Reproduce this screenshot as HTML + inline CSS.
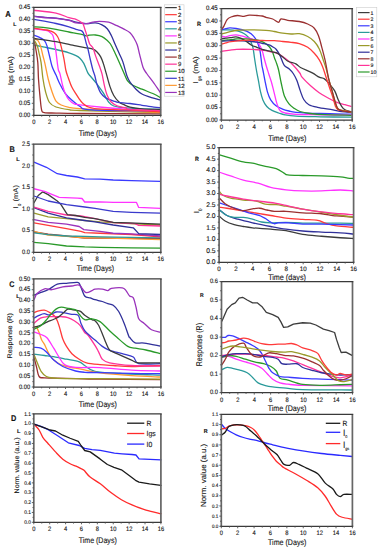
<!DOCTYPE html>
<html><head><meta charset="utf-8"><style>
html,body{margin:0;padding:0;background:#fff;width:384px;height:550px;overflow:hidden}
svg{display:block}
text{font-family:"Liberation Sans", sans-serif;text-rendering:geometricPrecision}
</style></head><body>
<svg width="384" height="550" viewBox="0 0 384 550">
<rect width="384" height="550" fill="#fff"/>
<path d="M33.90 45.00 C35.42 45.32 39.32 46.15 43.00 46.90 C46.68 47.65 51.67 48.52 56.00 49.50 C60.33 50.48 65.67 51.78 69.00 52.80 C72.33 53.82 74.18 54.70 76.00 55.60 C77.82 56.50 78.60 56.90 79.90 58.20 C81.20 59.50 82.50 61.00 83.80 63.40 C85.10 65.80 86.62 70.50 87.70 72.60 C88.78 74.70 88.78 74.13 90.30 76.00 C91.82 77.87 94.63 80.98 96.80 83.80 C98.97 86.62 101.33 89.87 103.30 92.90 C105.27 95.93 106.86 99.82 108.60 102.00 C110.34 104.18 110.85 105.02 113.75 106.00 C116.65 106.98 118.21 107.32 126.00 107.90 C133.79 108.48 154.75 109.23 160.50 109.50" stroke="#2a9a9a" stroke-width="1.3" fill="none" stroke-linejoin="round" stroke-linecap="round"/>
<path d="M33.90 39.10 C34.23 40.83 35.25 45.58 35.90 49.50 C36.55 53.42 37.37 57.68 37.80 62.60 C38.23 67.52 38.10 73.00 38.50 79.00 C38.90 85.00 39.67 93.38 40.20 98.60 C40.73 103.82 41.02 107.97 41.70 110.30 C42.38 112.63 41.92 112.13 44.30 112.60 C46.68 113.07 50.05 112.95 56.00 113.10 C61.95 113.25 62.58 113.38 80.00 113.50 C97.42 113.62 147.08 113.75 160.50 113.80" stroke="#9a3030" stroke-width="1.3" fill="none" stroke-linejoin="round" stroke-linecap="round"/>
<path d="M33.90 39.80 C34.45 40.77 36.33 43.33 37.20 45.60 C38.07 47.87 38.45 50.57 39.10 53.40 C39.75 56.23 40.45 58.33 41.10 62.60 C41.75 66.87 42.25 74.10 43.00 79.00 C43.75 83.90 44.52 88.08 45.60 92.00 C46.68 95.92 47.77 100.00 49.50 102.50 C51.23 105.00 52.75 105.82 56.00 107.00 C59.25 108.18 65.00 109.02 69.00 109.60 C73.00 110.18 64.75 110.02 80.00 110.50 C95.25 110.98 147.08 112.17 160.50 112.50" stroke="#9a9a2a" stroke-width="1.3" fill="none" stroke-linejoin="round" stroke-linecap="round"/>
<path d="M33.90 38.50 C34.55 38.82 36.72 39.22 37.80 40.40 C38.88 41.58 39.53 43.00 40.40 45.60 C41.27 48.20 42.23 52.95 43.00 56.00 C43.77 59.05 44.13 60.07 45.00 63.90 C45.87 67.73 47.02 74.32 48.20 79.00 C49.38 83.68 50.80 88.30 52.10 92.00 C53.40 95.70 54.48 99.03 56.00 101.20 C57.52 103.37 59.08 103.97 61.25 105.00 C63.42 106.03 65.88 106.78 69.00 107.40 C72.12 108.02 70.50 108.07 80.00 108.70 C89.50 109.33 112.58 110.60 126.00 111.20 C139.42 111.80 154.75 112.12 160.50 112.30" stroke="#ff9a33" stroke-width="1.3" fill="none" stroke-linejoin="round" stroke-linecap="round"/>
<path d="M33.90 35.20 C34.98 35.63 38.67 36.93 40.40 37.80 C42.13 38.67 43.22 39.10 44.30 40.40 C45.38 41.70 46.03 43.00 46.90 45.60 C47.77 48.20 48.63 52.52 49.50 56.00 C50.37 59.48 51.02 63.32 52.10 66.50 C53.18 69.68 54.68 72.15 56.00 75.10 C57.32 78.05 58.47 81.17 60.00 84.20 C61.53 87.23 63.25 90.68 65.20 93.30 C67.15 95.92 69.23 97.72 71.70 99.90 C74.17 102.08 76.68 104.73 80.00 106.40 C83.32 108.07 78.18 109.13 91.60 109.90 C105.02 110.67 149.02 110.82 160.50 111.00" stroke="#3a3aff" stroke-width="1.3" fill="none" stroke-linejoin="round" stroke-linecap="round"/>
<path d="M33.90 28.70 C36.08 29.03 44.28 30.05 47.00 30.70 C49.72 31.35 49.23 31.85 50.20 32.60 C51.17 33.35 52.15 33.90 52.80 35.20 C53.45 36.50 53.57 37.58 54.10 40.40 C54.63 43.22 55.47 48.40 56.00 52.10 C56.53 55.80 56.90 59.62 57.30 62.60 C57.70 65.58 57.95 68.13 58.40 70.00 C58.85 71.87 59.30 71.22 60.00 73.80 C60.70 76.38 61.73 82.25 62.60 85.50 C63.47 88.75 64.13 90.90 65.20 93.30 C66.27 95.70 67.48 98.15 69.00 99.90 C70.52 101.65 72.47 102.98 74.30 103.80 C76.13 104.62 75.38 104.22 80.00 104.80 C84.62 105.38 94.33 106.52 102.00 107.25 C109.67 107.98 116.25 108.53 126.00 109.20 C135.75 109.88 154.75 110.95 160.50 111.30" stroke="#ff33ff" stroke-width="1.3" fill="none" stroke-linejoin="round" stroke-linecap="round"/>
<path d="M33.90 28.10 C36.08 28.42 44.18 29.50 47.00 30.00 C49.82 30.50 49.55 30.60 50.80 31.10 C52.05 31.60 53.38 32.10 54.50 33.00 C55.62 33.90 56.67 35.17 57.50 36.50 C58.33 37.83 58.88 39.27 59.50 41.00 C60.12 42.73 60.52 43.97 61.25 46.90 C61.98 49.83 63.14 54.75 63.90 58.60 C64.66 62.45 65.15 67.03 65.80 70.00 C66.45 72.97 66.82 73.60 67.80 76.40 C68.78 79.20 70.40 83.98 71.70 86.80 C73.00 89.62 74.38 91.33 75.60 93.30 C76.82 95.27 77.85 96.98 79.00 98.60 C80.15 100.22 80.83 101.56 82.50 103.00 C84.17 104.44 85.75 106.22 89.00 107.25 C92.25 108.28 95.83 108.76 102.00 109.20 C108.17 109.64 116.25 109.47 126.00 109.90 C135.75 110.33 154.75 111.48 160.50 111.80" stroke="#ff3a3a" stroke-width="1.3" fill="none" stroke-linejoin="round" stroke-linecap="round"/>
<path d="M33.90 38.50 C37.58 39.03 50.15 40.73 56.00 41.70 C61.85 42.67 65.67 43.60 69.00 44.30 C72.33 45.00 73.10 45.32 76.00 45.90 C78.90 46.48 83.58 47.27 86.40 47.80 C89.22 48.33 91.17 48.45 92.90 49.10 C94.63 49.75 95.50 50.40 96.80 51.70 C98.10 53.00 99.62 54.95 100.70 56.90 C101.78 58.85 102.42 60.78 103.30 63.40 C104.18 66.02 104.90 68.77 106.00 72.60 C107.10 76.43 108.61 82.58 109.90 86.40 C111.19 90.22 112.23 92.90 113.75 95.50 C115.27 98.10 117.29 100.47 119.00 102.00 C120.71 103.53 122.17 103.85 124.00 104.70 C125.83 105.55 127.00 106.40 130.00 107.10 C133.00 107.80 136.92 108.50 142.00 108.90 C147.08 109.30 157.42 109.40 160.50 109.50" stroke="#3c3c3c" stroke-width="1.3" fill="none" stroke-linejoin="round" stroke-linecap="round"/>
<path d="M33.90 26.80 C35.42 26.90 39.32 26.97 43.00 27.40 C46.68 27.83 51.67 28.63 56.00 29.40 C60.33 30.17 65.67 31.35 69.00 32.00 C72.33 32.65 73.75 32.87 76.00 33.30 C78.25 33.73 80.77 34.17 82.50 34.60 C84.23 35.03 85.32 35.79 86.40 35.90 C87.48 36.01 87.48 35.40 89.00 35.25 C90.52 35.10 93.33 34.77 95.50 35.00 C97.67 35.23 100.04 35.68 102.00 36.60 C103.96 37.52 105.83 39.27 107.25 40.50 C108.67 41.73 109.21 41.92 110.50 44.00 C111.79 46.08 113.37 49.55 115.00 53.00 C116.63 56.45 118.60 60.87 120.30 64.70 C122.00 68.53 123.98 73.32 125.20 76.00 C126.42 78.68 126.40 79.30 127.60 80.80 C128.80 82.30 130.00 83.60 132.40 85.00 C134.80 86.40 138.42 87.70 142.00 89.20 C145.58 90.70 150.82 92.60 153.90 94.00 C156.98 95.40 159.40 97.00 160.50 97.60" stroke="#2a9a2a" stroke-width="1.3" fill="none" stroke-linejoin="round" stroke-linecap="round"/>
<path d="M33.90 19.40 C37.58 20.08 50.15 22.27 56.00 23.50 C61.85 24.73 65.67 25.82 69.00 26.80 C72.33 27.78 73.97 28.75 76.00 29.40 C78.03 30.05 80.00 30.17 81.20 30.70 C82.40 31.23 82.65 31.62 83.20 32.60 C83.75 33.58 83.97 34.70 84.50 36.60 C85.03 38.50 85.87 42.13 86.40 44.00 C86.93 45.87 87.05 45.22 87.70 47.80 C88.35 50.38 89.43 55.80 90.30 59.50 C91.17 63.20 92.13 67.25 92.90 70.00 C93.67 72.75 94.25 73.70 94.90 76.00 C95.55 78.30 95.83 80.98 96.80 83.80 C97.77 86.62 99.17 90.52 100.70 92.90 C102.23 95.28 103.62 96.68 106.00 98.10 C108.38 99.52 113.00 100.70 115.00 101.40 C117.00 102.10 115.50 101.95 118.00 102.30 C120.50 102.65 126.00 103.00 130.00 103.50 C134.00 104.00 138.02 104.70 142.00 105.30 C145.98 105.90 150.82 106.70 153.90 107.10 C156.98 107.50 159.40 107.60 160.50 107.70" stroke="#3a3acc" stroke-width="1.3" fill="none" stroke-linejoin="round" stroke-linecap="round"/>
<path d="M33.90 16.20 C35.42 16.37 39.32 16.87 43.00 17.20 C46.68 17.53 51.67 17.70 56.00 18.20 C60.33 18.70 65.67 19.53 69.00 20.20 C72.33 20.87 73.53 21.65 76.00 22.20 C78.47 22.75 81.63 23.28 83.80 23.50 C85.97 23.72 87.05 23.60 89.00 23.50 C90.95 23.40 93.33 22.68 95.50 22.90 C97.67 23.12 100.04 23.83 102.00 24.80 C103.96 25.77 105.72 26.96 107.25 28.70 C108.78 30.44 109.91 32.70 111.20 35.25 C112.49 37.80 113.70 41.04 115.00 44.00 C116.30 46.96 117.70 50.07 119.00 53.00 C120.30 55.93 121.47 57.77 122.80 61.60 C124.13 65.43 125.80 72.60 127.00 76.00 C128.20 79.40 128.50 79.80 130.00 82.00 C131.50 84.20 134.00 87.20 136.00 89.20 C138.00 91.20 139.42 92.60 142.00 94.00 C144.58 95.40 148.42 96.60 151.50 97.60 C154.58 98.60 159.00 99.60 160.50 100.00" stroke="#30309a" stroke-width="1.3" fill="none" stroke-linejoin="round" stroke-linecap="round"/>
<path d="M33.90 16.50 C35.42 16.67 39.32 17.18 43.00 17.50 C46.68 17.82 51.67 17.92 56.00 18.40 C60.33 18.88 65.67 19.65 69.00 20.40 C72.33 21.15 73.53 22.38 76.00 22.90 C78.47 23.42 81.85 23.40 83.80 23.50 C85.75 23.60 86.18 23.72 87.70 23.50 C89.22 23.28 90.95 22.57 92.90 22.20 C94.85 21.83 96.78 21.30 99.40 21.30 C102.02 21.30 106.00 21.62 108.60 22.20 C111.20 22.78 113.43 24.13 115.00 24.80 C116.57 25.47 116.50 25.48 118.00 26.20 C119.50 26.92 122.00 28.02 124.00 29.10 C126.00 30.18 128.40 31.30 130.00 32.70 C131.60 34.10 132.40 35.48 133.60 37.50 C134.80 39.52 136.20 41.98 137.20 44.80 C138.20 47.62 138.62 50.62 139.60 54.40 C140.58 58.18 141.92 64.32 143.10 67.50 C144.28 70.68 144.90 70.88 146.70 73.50 C148.50 76.12 151.60 79.98 153.90 83.20 C156.20 86.42 159.40 91.20 160.50 92.80" stroke="#9a33bb" stroke-width="1.3" fill="none" stroke-linejoin="round" stroke-linecap="round"/>
<path d="M33.90 10.25 C37.58 10.72 50.15 11.86 56.00 13.10 C61.85 14.34 65.67 16.65 69.00 17.70 C72.33 18.75 73.97 18.65 76.00 19.40 C78.03 20.15 80.00 21.40 81.20 22.20 C82.40 23.00 82.55 22.90 83.20 24.20 C83.85 25.50 84.35 27.72 85.10 30.00 C85.85 32.28 86.93 35.57 87.70 37.90 C88.47 40.23 88.83 42.35 89.70 44.00 C90.57 45.65 91.93 45.87 92.90 47.80 C93.87 49.73 94.42 52.57 95.50 55.60 C96.58 58.63 98.32 62.95 99.40 66.00 C100.48 69.05 101.13 70.50 102.00 73.90 C102.87 77.30 103.72 82.80 104.60 86.40 C105.47 90.00 106.15 92.90 107.25 95.50 C108.35 98.10 109.46 100.25 111.20 102.00 C112.94 103.75 115.23 105.02 117.70 106.00 C120.17 106.98 123.95 107.35 126.00 107.90 C128.05 108.45 124.25 108.83 130.00 109.30 C135.75 109.77 155.42 110.47 160.50 110.70" stroke="#ff3399" stroke-width="1.3" fill="none" stroke-linejoin="round" stroke-linecap="round"/>
<path d="M33.75 7.30V115.30M160.70 7.30V115.30" fill="none" stroke="#666" stroke-width="1.7"/>
<path d="M32.90 7.30H161.55M32.90 115.30H161.55" fill="none" stroke="#3a3a3a" stroke-width="1.25"/>
<path d="M33.75 115.30v2.0M41.68 115.30v1.3M49.62 115.30v2.0M57.55 115.30v1.3M65.49 115.30v2.0M73.42 115.30v1.3M81.36 115.30v2.0M89.29 115.30v1.3M97.22 115.30v2.0M105.16 115.30v1.3M113.09 115.30v2.0M121.03 115.30v1.3M128.96 115.30v2.0M136.90 115.30v1.3M144.83 115.30v2.0M152.77 115.30v1.3M160.70 115.30v2.0M33.75 115.30h-2.0M33.75 109.30h-1.3M33.75 103.30h-2.0M33.75 97.30h-1.3M33.75 91.30h-2.0M33.75 85.30h-1.3M33.75 79.30h-2.0M33.75 73.30h-1.3M33.75 67.30h-2.0M33.75 61.30h-1.3M33.75 55.30h-2.0M33.75 49.30h-1.3M33.75 43.30h-2.0M33.75 37.30h-1.3M33.75 31.30h-2.0M33.75 25.30h-1.3M33.75 19.30h-2.0M33.75 13.30h-1.3M33.75 7.30h-2.0" stroke="#505050" stroke-width="0.9" fill="none"/>
<text transform="translate(30.15 117.00) scale(0.9 1.0)" font-size="6.4" text-anchor="end" fill="#1a1a1a" font-weight="normal" stroke="#1a1a1a" stroke-width="0.14">0.00</text>
<text transform="translate(30.15 105.00) scale(0.9 1.0)" font-size="6.4" text-anchor="end" fill="#1a1a1a" font-weight="normal" stroke="#1a1a1a" stroke-width="0.14">0.05</text>
<text transform="translate(30.15 93.00) scale(0.9 1.0)" font-size="6.4" text-anchor="end" fill="#1a1a1a" font-weight="normal" stroke="#1a1a1a" stroke-width="0.14">0.10</text>
<text transform="translate(30.15 81.00) scale(0.9 1.0)" font-size="6.4" text-anchor="end" fill="#1a1a1a" font-weight="normal" stroke="#1a1a1a" stroke-width="0.14">0.15</text>
<text transform="translate(30.15 69.00) scale(0.9 1.0)" font-size="6.4" text-anchor="end" fill="#1a1a1a" font-weight="normal" stroke="#1a1a1a" stroke-width="0.14">0.20</text>
<text transform="translate(30.15 57.00) scale(0.9 1.0)" font-size="6.4" text-anchor="end" fill="#1a1a1a" font-weight="normal" stroke="#1a1a1a" stroke-width="0.14">0.25</text>
<text transform="translate(30.15 45.00) scale(0.9 1.0)" font-size="6.4" text-anchor="end" fill="#1a1a1a" font-weight="normal" stroke="#1a1a1a" stroke-width="0.14">0.30</text>
<text transform="translate(30.15 33.00) scale(0.9 1.0)" font-size="6.4" text-anchor="end" fill="#1a1a1a" font-weight="normal" stroke="#1a1a1a" stroke-width="0.14">0.35</text>
<text transform="translate(30.15 21.00) scale(0.9 1.0)" font-size="6.4" text-anchor="end" fill="#1a1a1a" font-weight="normal" stroke="#1a1a1a" stroke-width="0.14">0.40</text>
<text transform="translate(30.15 9.00) scale(0.9 1.0)" font-size="6.4" text-anchor="end" fill="#1a1a1a" font-weight="normal" stroke="#1a1a1a" stroke-width="0.14">0.45</text>
<text transform="translate(33.75 124.40) scale(0.9 1.0)" font-size="6.4" text-anchor="middle" fill="#1a1a1a" font-weight="normal" stroke="#1a1a1a" stroke-width="0.14">0</text>
<text transform="translate(49.62 124.40) scale(0.9 1.0)" font-size="6.4" text-anchor="middle" fill="#1a1a1a" font-weight="normal" stroke="#1a1a1a" stroke-width="0.14">2</text>
<text transform="translate(65.49 124.40) scale(0.9 1.0)" font-size="6.4" text-anchor="middle" fill="#1a1a1a" font-weight="normal" stroke="#1a1a1a" stroke-width="0.14">4</text>
<text transform="translate(81.36 124.40) scale(0.9 1.0)" font-size="6.4" text-anchor="middle" fill="#1a1a1a" font-weight="normal" stroke="#1a1a1a" stroke-width="0.14">6</text>
<text transform="translate(97.22 124.40) scale(0.9 1.0)" font-size="6.4" text-anchor="middle" fill="#1a1a1a" font-weight="normal" stroke="#1a1a1a" stroke-width="0.14">8</text>
<text transform="translate(113.09 124.40) scale(0.9 1.0)" font-size="6.4" text-anchor="middle" fill="#1a1a1a" font-weight="normal" stroke="#1a1a1a" stroke-width="0.14">10</text>
<text transform="translate(128.96 124.40) scale(0.9 1.0)" font-size="6.4" text-anchor="middle" fill="#1a1a1a" font-weight="normal" stroke="#1a1a1a" stroke-width="0.14">12</text>
<text transform="translate(144.83 124.40) scale(0.9 1.0)" font-size="6.4" text-anchor="middle" fill="#1a1a1a" font-weight="normal" stroke="#1a1a1a" stroke-width="0.14">14</text>
<text transform="translate(160.70 124.40) scale(0.9 1.0)" font-size="6.4" text-anchor="middle" fill="#1a1a1a" font-weight="normal" stroke="#1a1a1a" stroke-width="0.14">16</text>
<text transform="translate(5.20 16.70) scale(0.9 1.0)" font-size="8.6" text-anchor="start" fill="#111" font-weight="bold" stroke="#111" stroke-width="0.14">A</text>
<text transform="translate(13.20 26.00)" font-size="5" text-anchor="start" fill="#111" font-weight="bold" stroke="#111" stroke-width="0.14">L</text>
<text transform="translate(13.00 70.80) rotate(-90) scale(1.0 0.92)" font-size="7.7" text-anchor="middle" fill="#1a1a1a" font-weight="normal" stroke="#1a1a1a" stroke-width="0.14">Igs (mA)</text>
<text transform="translate(97.70 136.00) scale(0.87 1.0)" font-size="8.1" text-anchor="middle" fill="#1a1a1a" font-weight="normal" stroke="#1a1a1a" stroke-width="0.14">Time (Days)</text>
<rect x="164.3" y="4.8" width="19.7" height="91.4" fill="none" stroke="#ccc" stroke-width="0.6"/>
<path d="M165.2 7.60H176.8" stroke="#3c3c3c" stroke-width="1.2"/>
<text transform="translate(178.00 9.80)" font-size="6" text-anchor="start" fill="#1a1a1a" font-weight="normal" stroke="#1a1a1a" stroke-width="0.14">1</text>
<path d="M165.2 14.67H176.8" stroke="#ff3a3a" stroke-width="1.2"/>
<text transform="translate(178.00 16.87)" font-size="6" text-anchor="start" fill="#1a1a1a" font-weight="normal" stroke="#1a1a1a" stroke-width="0.14">2</text>
<path d="M165.2 21.74H176.8" stroke="#3a3aff" stroke-width="1.2"/>
<text transform="translate(178.00 23.94)" font-size="6" text-anchor="start" fill="#1a1a1a" font-weight="normal" stroke="#1a1a1a" stroke-width="0.14">3</text>
<path d="M165.2 28.81H176.8" stroke="#2a9a9a" stroke-width="1.2"/>
<text transform="translate(178.00 31.01)" font-size="6" text-anchor="start" fill="#1a1a1a" font-weight="normal" stroke="#1a1a1a" stroke-width="0.14">4</text>
<path d="M165.2 35.88H176.8" stroke="#ff33ff" stroke-width="1.2"/>
<text transform="translate(178.00 38.08)" font-size="6" text-anchor="start" fill="#1a1a1a" font-weight="normal" stroke="#1a1a1a" stroke-width="0.14">5</text>
<path d="M165.2 42.95H176.8" stroke="#9a9a2a" stroke-width="1.2"/>
<text transform="translate(178.00 45.15)" font-size="6" text-anchor="start" fill="#1a1a1a" font-weight="normal" stroke="#1a1a1a" stroke-width="0.14">6</text>
<path d="M165.2 50.02H176.8" stroke="#30309a" stroke-width="1.2"/>
<text transform="translate(178.00 52.22)" font-size="6" text-anchor="start" fill="#1a1a1a" font-weight="normal" stroke="#1a1a1a" stroke-width="0.14">7</text>
<path d="M165.2 57.09H176.8" stroke="#9a3030" stroke-width="1.2"/>
<text transform="translate(178.00 59.29)" font-size="6" text-anchor="start" fill="#1a1a1a" font-weight="normal" stroke="#1a1a1a" stroke-width="0.14">8</text>
<path d="M165.2 64.16H176.8" stroke="#ff3399" stroke-width="1.2"/>
<text transform="translate(178.00 66.36)" font-size="6" text-anchor="start" fill="#1a1a1a" font-weight="normal" stroke="#1a1a1a" stroke-width="0.14">9</text>
<path d="M165.2 71.23H176.8" stroke="#2a9a2a" stroke-width="1.2"/>
<text transform="translate(178.00 73.43)" font-size="6" text-anchor="start" fill="#1a1a1a" font-weight="normal" stroke="#1a1a1a" stroke-width="0.14">10</text>
<path d="M165.2 78.30H176.8" stroke="#3a3acc" stroke-width="1.2"/>
<text transform="translate(178.00 80.50)" font-size="6" text-anchor="start" fill="#1a1a1a" font-weight="normal" stroke="#1a1a1a" stroke-width="0.14">11</text>
<path d="M165.2 85.37H176.8" stroke="#ff9a33" stroke-width="1.2"/>
<text transform="translate(178.00 87.57)" font-size="6" text-anchor="start" fill="#1a1a1a" font-weight="normal" stroke="#1a1a1a" stroke-width="0.14">12</text>
<path d="M165.2 92.44H176.8" stroke="#9a33bb" stroke-width="1.2"/>
<text transform="translate(178.00 94.64)" font-size="6" text-anchor="start" fill="#1a1a1a" font-weight="normal" stroke="#1a1a1a" stroke-width="0.14">13</text>
<path d="M221.60 29.90 C222.73 29.90 226.00 29.78 228.40 29.90 C230.80 30.02 233.69 30.13 236.00 30.60 C238.31 31.07 240.52 31.92 242.25 32.70 C243.98 33.48 245.19 34.35 246.40 35.30 C247.61 36.25 248.63 37.02 249.50 38.40 C250.37 39.78 250.98 41.87 251.60 43.60 C252.22 45.33 252.72 46.40 253.20 48.80 C253.68 51.20 253.97 54.47 254.50 58.00 C255.03 61.53 255.75 66.27 256.40 70.00 C257.05 73.73 257.75 76.93 258.40 80.40 C259.05 83.87 259.55 87.55 260.30 90.80 C261.05 94.05 261.82 97.28 262.90 99.90 C263.98 102.52 265.28 104.75 266.80 106.50 C268.32 108.25 270.03 109.32 272.00 110.40 C273.97 111.48 276.43 112.25 278.60 113.00 C280.77 113.75 282.10 114.37 285.00 114.90 C287.90 115.43 290.17 115.88 296.00 116.20 C301.83 116.52 310.67 116.63 320.00 116.80 C329.33 116.97 346.67 117.13 352.00 117.20" stroke="#2a9a9a" stroke-width="1.3" fill="none" stroke-linejoin="round" stroke-linecap="round"/>
<path d="M221.60 29.60 C222.30 29.45 224.45 28.98 225.80 28.70 C227.15 28.42 228.00 27.93 229.70 27.90 C231.40 27.87 233.22 27.97 236.00 28.50 C238.78 29.03 243.80 30.14 246.40 31.10 C249.00 32.06 250.12 33.03 251.60 34.25 C253.08 35.47 254.25 36.84 255.30 38.40 C256.35 39.96 257.12 41.52 257.90 43.60 C258.68 45.68 259.48 48.50 260.00 50.90 C260.52 53.30 260.67 55.48 261.00 58.00 C261.33 60.52 261.68 64.00 262.00 66.00 C262.32 68.00 262.42 67.60 262.90 70.00 C263.38 72.40 264.13 76.72 264.90 80.40 C265.67 84.08 266.53 88.85 267.50 92.10 C268.47 95.35 269.28 97.62 270.70 99.90 C272.12 102.18 274.03 104.27 276.00 105.80 C277.97 107.33 280.33 108.23 282.50 109.10 C284.67 109.97 286.75 110.47 289.00 111.00 C291.25 111.53 290.83 111.88 296.00 112.30 C301.17 112.72 310.67 113.18 320.00 113.50 C329.33 113.82 346.67 114.08 352.00 114.20" stroke="#3a3aff" stroke-width="1.3" fill="none" stroke-linejoin="round" stroke-linecap="round"/>
<path d="M221.60 36.40 C222.30 36.47 224.45 36.93 225.80 36.80 C227.15 36.67 228.00 35.93 229.70 35.60 C231.40 35.27 234.08 34.77 236.00 34.80 C237.92 34.83 239.47 35.37 241.20 35.80 C242.93 36.23 244.32 36.78 246.40 37.40 C248.48 38.02 251.78 38.63 253.70 39.50 C255.62 40.37 256.77 41.39 257.90 42.60 C259.03 43.81 259.72 45.18 260.50 46.75 C261.28 48.32 262.00 50.12 262.60 52.00 C263.20 53.88 263.48 55.67 264.10 58.00 C264.72 60.33 265.52 63.33 266.30 66.00 C267.08 68.67 267.95 71.33 268.80 74.00 C269.65 76.67 270.53 78.98 271.40 82.00 C272.27 85.02 273.13 88.67 274.00 92.10 C274.87 95.53 275.62 99.55 276.60 102.60 C277.58 105.65 278.50 108.67 279.90 110.40 C281.30 112.13 282.32 112.35 285.00 113.00 C287.68 113.65 290.17 114.00 296.00 114.30 C301.83 114.60 310.67 114.65 320.00 114.80 C329.33 114.95 346.67 115.13 352.00 115.20" stroke="#ff33ff" stroke-width="1.3" fill="none" stroke-linejoin="round" stroke-linecap="round"/>
<path d="M221.60 40.70 C222.57 40.57 225.40 40.12 227.40 39.90 C229.40 39.68 232.17 39.57 233.60 39.40 C235.03 39.23 233.87 38.98 236.00 38.90 C238.13 38.82 242.93 38.72 246.40 38.90 C249.87 39.08 253.85 39.38 256.80 40.00 C259.75 40.62 262.02 41.48 264.10 42.60 C266.18 43.73 267.90 45.18 269.30 46.75 C270.70 48.32 271.63 50.12 272.50 52.00 C273.37 53.88 273.87 56.23 274.50 58.00 C275.13 59.77 275.62 60.60 276.30 62.60 C276.98 64.60 277.78 66.60 278.60 70.00 C279.42 73.40 280.23 78.67 281.20 83.00 C282.17 87.33 283.10 92.52 284.40 96.00 C285.70 99.48 287.37 101.83 289.00 103.90 C290.63 105.97 292.37 107.13 294.20 108.40 C296.03 109.67 297.37 110.65 300.00 111.50 C302.63 112.35 305.93 112.97 310.00 113.50 C314.07 114.03 317.57 114.40 324.40 114.70 C331.23 115.00 346.57 115.20 351.00 115.30" stroke="#2a9a2a" stroke-width="1.3" fill="none" stroke-linejoin="round" stroke-linecap="round"/>
<path d="M221.60 51.40 C224.12 51.07 231.72 49.73 236.75 49.40 C241.78 49.07 247.54 49.27 251.75 49.40 C255.96 49.53 258.99 49.85 262.00 50.20 C265.01 50.55 267.20 50.97 269.80 51.50 C272.40 52.03 275.00 52.22 277.60 53.40 C280.20 54.58 282.79 56.63 285.40 58.60 C288.01 60.57 290.85 62.80 293.25 65.20 C295.65 67.60 298.34 71.00 299.80 73.00 C301.26 75.00 300.20 75.07 302.00 77.20 C303.80 79.33 307.73 83.22 310.60 85.80 C313.47 88.38 316.33 90.70 319.20 92.70 C322.07 94.70 324.93 96.23 327.80 97.80 C330.67 99.37 333.53 100.95 336.40 102.10 C339.27 103.25 342.57 103.98 345.00 104.70 C347.43 105.42 350.00 106.12 351.00 106.40" stroke="#ff3399" stroke-width="1.3" fill="none" stroke-linejoin="round" stroke-linecap="round"/>
<path d="M221.60 41.10 C222.57 41.07 225.40 41.00 227.40 40.90 C229.40 40.80 232.17 40.57 233.60 40.50 C235.03 40.43 233.87 40.42 236.00 40.50 C238.13 40.58 242.93 40.73 246.40 41.00 C249.87 41.27 254.20 41.70 256.80 42.10 C259.40 42.50 260.60 43.10 262.00 43.40 C263.40 43.70 263.90 43.60 265.20 43.90 C266.50 44.20 268.50 44.68 269.80 45.20 C271.10 45.72 271.92 46.28 273.00 47.00 C274.08 47.72 275.10 48.00 276.30 49.50 C277.50 51.00 278.90 53.38 280.20 56.00 C281.50 58.62 282.58 63.03 284.10 65.20 C285.62 67.37 287.75 67.58 289.30 69.00 C290.85 70.42 292.13 71.82 293.40 73.75 C294.67 75.68 295.75 77.74 296.90 80.60 C298.05 83.46 299.16 87.75 300.30 90.90 C301.44 94.05 302.32 97.20 303.75 99.50 C305.18 101.80 306.61 103.40 308.90 104.70 C311.19 106.00 313.48 106.45 317.50 107.30 C321.52 108.15 328.98 109.08 333.00 109.80 C337.02 110.52 338.60 111.17 341.60 111.60 C344.60 112.03 349.43 112.27 351.00 112.40" stroke="#30309a" stroke-width="1.3" fill="none" stroke-linejoin="round" stroke-linecap="round"/>
<path d="M221.60 38.75 C222.30 38.64 224.32 38.29 225.80 38.10 C227.28 37.91 228.80 37.80 230.50 37.60 C232.20 37.40 234.22 36.77 236.00 36.90 C237.78 37.03 239.47 37.63 241.20 38.40 C242.93 39.17 244.67 40.37 246.40 41.50 C248.13 42.63 249.87 44.23 251.60 45.20 C253.33 46.17 255.07 46.60 256.80 47.30 C258.53 48.00 260.26 48.85 262.00 49.40 C263.74 49.95 265.58 50.20 267.25 50.60 C268.92 51.00 270.54 51.45 272.00 51.80 C273.46 52.15 274.42 52.00 276.00 52.70 C277.58 53.40 279.50 54.58 281.50 56.00 C283.50 57.42 285.61 59.93 288.00 61.25 C290.39 62.57 293.68 62.81 295.85 63.90 C298.02 64.99 298.26 66.30 301.00 67.80 C303.74 69.30 309.27 71.33 312.30 72.90 C315.33 74.47 317.18 76.20 319.20 77.20 C321.22 78.20 322.68 77.75 324.40 78.90 C326.12 80.05 327.78 82.10 329.50 84.10 C331.22 86.10 333.27 88.33 334.70 90.90 C336.13 93.47 336.95 96.92 338.10 99.50 C339.25 102.08 340.45 104.68 341.60 106.40 C342.75 108.12 343.43 108.93 345.00 109.80 C346.57 110.67 350.00 111.30 351.00 111.60" stroke="#3c3c3c" stroke-width="1.3" fill="none" stroke-linejoin="round" stroke-linecap="round"/>
<path d="M221.60 44.20 C222.30 43.98 224.23 43.33 225.80 42.90 C227.37 42.47 227.97 42.03 231.00 41.60 C234.03 41.17 239.67 40.52 244.00 40.30 C248.33 40.08 253.33 40.23 257.00 40.30 C260.67 40.37 263.12 40.63 266.00 40.70 C268.88 40.77 271.52 40.57 274.30 40.70 C277.08 40.83 279.92 41.23 282.70 41.50 C285.48 41.77 288.23 41.93 291.00 42.30 C293.77 42.67 296.52 42.87 299.30 43.70 C302.08 44.53 305.20 45.72 307.70 47.30 C310.20 48.88 312.37 51.12 314.30 53.20 C316.23 55.28 317.90 57.52 319.30 59.80 C320.70 62.08 321.57 64.00 322.70 66.90 C323.83 69.80 324.97 73.77 326.10 77.20 C327.23 80.63 328.35 84.07 329.50 87.50 C330.65 90.93 332.00 94.65 333.00 97.80 C334.00 100.95 334.65 104.40 335.50 106.40 C336.35 108.40 336.52 109.08 338.10 109.80 C339.68 110.52 342.85 110.23 345.00 110.70 C347.15 111.17 350.00 112.28 351.00 112.60" stroke="#ff3a3a" stroke-width="1.3" fill="none" stroke-linejoin="round" stroke-linecap="round"/>
<path d="M221.60 34.00 C222.73 33.68 225.75 32.73 228.40 32.10 C231.05 31.48 233.82 30.62 237.50 30.25 C241.18 29.88 245.75 29.89 250.50 29.90 C255.25 29.91 262.03 30.03 266.00 30.30 C269.97 30.57 271.52 31.02 274.30 31.50 C277.08 31.98 279.92 32.78 282.70 33.20 C285.48 33.62 288.23 33.92 291.00 34.00 C293.77 34.08 296.52 33.28 299.30 33.70 C302.08 34.12 305.20 35.20 307.70 36.50 C310.20 37.80 312.37 39.42 314.30 41.50 C316.23 43.58 317.77 45.80 319.30 49.00 C320.83 52.20 322.37 57.43 323.50 60.70 C324.63 63.97 325.23 65.57 326.10 68.60 C326.97 71.63 327.70 75.18 328.70 78.90 C329.70 82.62 330.97 86.88 332.10 90.90 C333.23 94.92 334.50 99.98 335.50 103.00 C336.50 106.02 336.80 107.72 338.10 109.00 C339.40 110.28 341.15 110.20 343.30 110.70 C345.45 111.20 349.72 111.78 351.00 112.00" stroke="#9a9a2a" stroke-width="1.3" fill="none" stroke-linejoin="round" stroke-linecap="round"/>
<path d="M221.40 29.60 C221.82 29.02 222.95 27.77 223.90 26.10 C224.85 24.43 225.92 21.12 227.10 19.60 C228.28 18.08 229.27 17.68 231.00 17.00 C232.73 16.32 235.55 15.60 237.50 15.50 C239.45 15.40 240.74 16.47 242.70 16.40 C244.66 16.33 246.87 15.25 249.25 15.10 C251.63 14.95 254.82 15.35 257.00 15.50 C259.18 15.65 260.80 15.70 262.30 16.00 C263.80 16.30 264.27 16.80 266.00 17.30 C267.73 17.80 270.62 18.17 272.70 19.00 C274.78 19.83 277.12 22.30 278.50 22.30 C279.88 22.30 279.47 19.33 281.00 19.00 C282.53 18.67 284.65 19.88 287.70 20.30 C290.75 20.72 295.97 20.88 299.30 21.50 C302.63 22.12 305.20 22.88 307.70 24.00 C310.20 25.12 312.50 26.25 314.30 28.20 C316.10 30.15 317.25 32.52 318.50 35.70 C319.75 38.88 320.68 43.13 321.80 47.30 C322.92 51.47 324.05 55.43 325.20 60.70 C326.35 65.97 327.55 73.87 328.70 78.90 C329.85 83.93 330.97 86.88 332.10 90.90 C333.23 94.92 334.50 99.98 335.50 103.00 C336.50 106.02 336.80 107.63 338.10 109.00 C339.40 110.37 341.15 110.73 343.30 111.20 C345.45 111.67 349.72 111.70 351.00 111.80" stroke="#9a3030" stroke-width="1.3" fill="none" stroke-linejoin="round" stroke-linecap="round"/>
<path d="M221.40 8.60V120.00M352.20 8.60V120.00" fill="none" stroke="#666" stroke-width="1.7"/>
<path d="M220.55 8.60H353.05M220.55 120.00H353.05" fill="none" stroke="#3a3a3a" stroke-width="1.25"/>
<path d="M221.40 120.00v2.0M229.58 120.00v1.3M237.75 120.00v2.0M245.93 120.00v1.3M254.10 120.00v2.0M262.27 120.00v1.3M270.45 120.00v2.0M278.62 120.00v1.3M286.80 120.00v2.0M294.98 120.00v1.3M303.15 120.00v2.0M311.32 120.00v1.3M319.50 120.00v2.0M327.68 120.00v1.3M335.85 120.00v2.0M344.02 120.00v1.3M352.20 120.00v2.0M221.40 120.00h-2.0M221.40 113.81h-1.3M221.40 107.62h-2.0M221.40 101.43h-1.3M221.40 95.24h-2.0M221.40 89.06h-1.3M221.40 82.87h-2.0M221.40 76.68h-1.3M221.40 70.49h-2.0M221.40 64.30h-1.3M221.40 58.11h-2.0M221.40 51.92h-1.3M221.40 45.73h-2.0M221.40 39.54h-1.3M221.40 33.36h-2.0M221.40 27.17h-1.3M221.40 20.98h-2.0M221.40 14.79h-1.3M221.40 8.60h-2.0" stroke="#505050" stroke-width="0.9" fill="none"/>
<text transform="translate(217.60 121.70) scale(0.94 1.0)" font-size="6.4" text-anchor="end" fill="#1a1a1a" font-weight="normal" stroke="#1a1a1a" stroke-width="0.14">0.00</text>
<text transform="translate(217.60 109.32) scale(0.94 1.0)" font-size="6.4" text-anchor="end" fill="#1a1a1a" font-weight="normal" stroke="#1a1a1a" stroke-width="0.14">0.05</text>
<text transform="translate(217.60 96.94) scale(0.94 1.0)" font-size="6.4" text-anchor="end" fill="#1a1a1a" font-weight="normal" stroke="#1a1a1a" stroke-width="0.14">0.10</text>
<text transform="translate(217.60 84.57) scale(0.94 1.0)" font-size="6.4" text-anchor="end" fill="#1a1a1a" font-weight="normal" stroke="#1a1a1a" stroke-width="0.14">0.15</text>
<text transform="translate(217.60 72.19) scale(0.94 1.0)" font-size="6.4" text-anchor="end" fill="#1a1a1a" font-weight="normal" stroke="#1a1a1a" stroke-width="0.14">0.20</text>
<text transform="translate(217.60 59.81) scale(0.94 1.0)" font-size="6.4" text-anchor="end" fill="#1a1a1a" font-weight="normal" stroke="#1a1a1a" stroke-width="0.14">0.25</text>
<text transform="translate(217.60 47.43) scale(0.94 1.0)" font-size="6.4" text-anchor="end" fill="#1a1a1a" font-weight="normal" stroke="#1a1a1a" stroke-width="0.14">0.30</text>
<text transform="translate(217.60 35.06) scale(0.94 1.0)" font-size="6.4" text-anchor="end" fill="#1a1a1a" font-weight="normal" stroke="#1a1a1a" stroke-width="0.14">0.35</text>
<text transform="translate(217.60 22.68) scale(0.94 1.0)" font-size="6.4" text-anchor="end" fill="#1a1a1a" font-weight="normal" stroke="#1a1a1a" stroke-width="0.14">0.40</text>
<text transform="translate(217.60 10.30) scale(0.94 1.0)" font-size="6.4" text-anchor="end" fill="#1a1a1a" font-weight="normal" stroke="#1a1a1a" stroke-width="0.14">0.45</text>
<text transform="translate(221.40 129.10) scale(0.94 1.0)" font-size="6.4" text-anchor="middle" fill="#1a1a1a" font-weight="normal" stroke="#1a1a1a" stroke-width="0.14">0</text>
<text transform="translate(237.75 129.10) scale(0.94 1.0)" font-size="6.4" text-anchor="middle" fill="#1a1a1a" font-weight="normal" stroke="#1a1a1a" stroke-width="0.14">2</text>
<text transform="translate(254.10 129.10) scale(0.94 1.0)" font-size="6.4" text-anchor="middle" fill="#1a1a1a" font-weight="normal" stroke="#1a1a1a" stroke-width="0.14">4</text>
<text transform="translate(270.45 129.10) scale(0.94 1.0)" font-size="6.4" text-anchor="middle" fill="#1a1a1a" font-weight="normal" stroke="#1a1a1a" stroke-width="0.14">6</text>
<text transform="translate(286.80 129.10) scale(0.94 1.0)" font-size="6.4" text-anchor="middle" fill="#1a1a1a" font-weight="normal" stroke="#1a1a1a" stroke-width="0.14">8</text>
<text transform="translate(303.15 129.10) scale(0.94 1.0)" font-size="6.4" text-anchor="middle" fill="#1a1a1a" font-weight="normal" stroke="#1a1a1a" stroke-width="0.14">10</text>
<text transform="translate(319.50 129.10) scale(0.94 1.0)" font-size="6.4" text-anchor="middle" fill="#1a1a1a" font-weight="normal" stroke="#1a1a1a" stroke-width="0.14">12</text>
<text transform="translate(335.85 129.10) scale(0.94 1.0)" font-size="6.4" text-anchor="middle" fill="#1a1a1a" font-weight="normal" stroke="#1a1a1a" stroke-width="0.14">14</text>
<text transform="translate(352.20 129.10) scale(0.94 1.0)" font-size="6.4" text-anchor="middle" fill="#1a1a1a" font-weight="normal" stroke="#1a1a1a" stroke-width="0.14">16</text>
<text transform="translate(196.90 26.30) scale(0.92 1.0)" font-size="6.1" text-anchor="start" fill="#111" font-weight="bold" stroke="#111" stroke-width="0.14">R</text>
<text transform="translate(198.1 83.6) rotate(-90) scale(1 0.88)" font-size="8" fill="#1a1a1a" stroke="#1a1a1a" stroke-width="0.12">I<tspan font-size="5.2" dy="3.2">gs</tspan><tspan dy="-3.2"> (mA)</tspan></text>
<text transform="translate(287.25 141.20) scale(0.87 1.0)" font-size="8.1" text-anchor="middle" fill="#1a1a1a" font-weight="normal" stroke="#1a1a1a" stroke-width="0.14">Time (Days)</text>
<rect x="356.6" y="7.6" width="20.2" height="69.2" fill="none" stroke="#ccc" stroke-width="0.6"/>
<path d="M358 12.60H369.6" stroke="#3c3c3c" stroke-width="1.2"/>
<text transform="translate(370.60 14.50)" font-size="5.2" text-anchor="start" fill="#1a1a1a" font-weight="normal" stroke="#1a1a1a" stroke-width="0.14">1</text>
<path d="M358 19.20H369.6" stroke="#ff3a3a" stroke-width="1.2"/>
<text transform="translate(370.60 21.10)" font-size="5.2" text-anchor="start" fill="#1a1a1a" font-weight="normal" stroke="#1a1a1a" stroke-width="0.14">2</text>
<path d="M358 25.80H369.6" stroke="#3a3aff" stroke-width="1.2"/>
<text transform="translate(370.60 27.70)" font-size="5.2" text-anchor="start" fill="#1a1a1a" font-weight="normal" stroke="#1a1a1a" stroke-width="0.14">3</text>
<path d="M358 32.40H369.6" stroke="#2a9a9a" stroke-width="1.2"/>
<text transform="translate(370.60 34.30)" font-size="5.2" text-anchor="start" fill="#1a1a1a" font-weight="normal" stroke="#1a1a1a" stroke-width="0.14">4</text>
<path d="M358 39.00H369.6" stroke="#ff33ff" stroke-width="1.2"/>
<text transform="translate(370.60 40.90)" font-size="5.2" text-anchor="start" fill="#1a1a1a" font-weight="normal" stroke="#1a1a1a" stroke-width="0.14">5</text>
<path d="M358 45.60H369.6" stroke="#9a9a2a" stroke-width="1.2"/>
<text transform="translate(370.60 47.50)" font-size="5.2" text-anchor="start" fill="#1a1a1a" font-weight="normal" stroke="#1a1a1a" stroke-width="0.14">6</text>
<path d="M358 52.20H369.6" stroke="#30309a" stroke-width="1.2"/>
<text transform="translate(370.60 54.10)" font-size="5.2" text-anchor="start" fill="#1a1a1a" font-weight="normal" stroke="#1a1a1a" stroke-width="0.14">7</text>
<path d="M358 58.80H369.6" stroke="#9a3030" stroke-width="1.2"/>
<text transform="translate(370.60 60.70)" font-size="5.2" text-anchor="start" fill="#1a1a1a" font-weight="normal" stroke="#1a1a1a" stroke-width="0.14">8</text>
<path d="M358 65.40H369.6" stroke="#ff3399" stroke-width="1.2"/>
<text transform="translate(370.60 67.30)" font-size="5.2" text-anchor="start" fill="#1a1a1a" font-weight="normal" stroke="#1a1a1a" stroke-width="0.14">9</text>
<path d="M358 72.00H369.6" stroke="#2a9a2a" stroke-width="1.2"/>
<text transform="translate(370.60 73.90)" font-size="5.2" text-anchor="start" fill="#1a1a1a" font-weight="normal" stroke="#1a1a1a" stroke-width="0.14">10</text>
<path d="M34.00 242.40 L48.20 243.60 L66.50 246.00 L84.70 246.90 L100.00 247.30 L131.50 247.80 L160.30 248.20" stroke="#2a9a2a" stroke-width="1.3" fill="none" stroke-linejoin="round" stroke-linecap="round"/>
<path d="M34.00 232.00 L48.20 234.20 L66.50 236.00 L84.70 238.20 L100.00 238.20 L160.30 238.70" stroke="#9a3030" stroke-width="1.3" fill="none" stroke-linejoin="round" stroke-linecap="round"/>
<path d="M34.00 231.40 L48.20 235.10 L66.50 236.40 L84.70 237.80 L100.00 237.80 L160.30 239.60" stroke="#ff9a33" stroke-width="1.3" fill="none" stroke-linejoin="round" stroke-linecap="round"/>
<path d="M34.00 232.80 L48.20 234.60 L66.50 236.00 L84.70 236.40 L100.00 236.90 L160.30 237.80" stroke="#2a9a9a" stroke-width="1.3" fill="none" stroke-linejoin="round" stroke-linecap="round"/>
<path d="M34.00 222.90 L48.20 225.40 L66.50 228.70 L81.00 231.40 L84.70 232.70 L100.00 233.25 L131.50 234.50 L160.30 236.90" stroke="#ff3a3a" stroke-width="1.3" fill="none" stroke-linejoin="round" stroke-linecap="round"/>
<path d="M34.00 219.60 L48.20 222.30 L66.50 224.10 L79.20 226.50 L83.80 229.60 L100.00 231.40 L113.20 233.25 L131.50 233.80 L160.30 236.00" stroke="#9a33bb" stroke-width="1.3" fill="none" stroke-linejoin="round" stroke-linecap="round"/>
<path d="M34.00 213.20 L48.20 216.80 L66.50 218.70 L84.70 220.50 L100.00 221.90 L130.00 223.50 L160.30 225.00" stroke="#9a9a2a" stroke-width="1.3" fill="none" stroke-linejoin="round" stroke-linecap="round"/>
<path d="M34.00 207.70 L48.20 213.20 L66.50 217.80 L84.70 220.50 L95.00 221.80 L113.20 225.00 L133.30 227.80 L138.70 233.60 L160.30 234.50" stroke="#30309a" stroke-width="1.3" fill="none" stroke-linejoin="round" stroke-linecap="round"/>
<path d="M34.00 207.20 L48.20 211.40 L66.50 215.00 L81.00 216.00 L95.00 218.70 L113.20 222.70 L135.10 223.60 L138.70 225.40 L160.30 226.00" stroke="#ff3399" stroke-width="1.3" fill="none" stroke-linejoin="round" stroke-linecap="round"/>
<path d="M34.00 202.80 L38.20 195.50 L42.80 191.80 L48.20 194.60 L57.30 201.00 L61.00 204.60 L67.40 214.60 L75.60 215.50 L84.70 217.40 L95.00 218.70 L113.20 222.30 L135.10 223.20 L160.30 224.10" stroke="#3c3c3c" stroke-width="1.3" fill="none" stroke-linejoin="round" stroke-linecap="round"/>
<path d="M34.00 196.00 L48.20 201.00 L66.50 204.60 L84.70 207.00 L95.00 208.30 L113.20 211.40 L131.50 212.30 L160.30 213.20" stroke="#3a3acc" stroke-width="1.3" fill="none" stroke-linejoin="round" stroke-linecap="round"/>
<path d="M34.00 188.75 L44.60 191.30 L59.20 197.30 L77.40 198.20 L82.00 198.50 L84.70 202.00 L100.00 201.90 L113.20 202.40 L136.50 202.40 L138.70 207.40 L160.30 208.30" stroke="#ff33ff" stroke-width="1.3" fill="none" stroke-linejoin="round" stroke-linecap="round"/>
<path d="M34.00 162.20 L46.40 167.30 L57.30 173.70 L66.50 175.50 L77.40 177.00 L84.70 178.80 L100.00 179.20 L113.20 180.00 L131.50 180.60 L160.30 181.30" stroke="#3a3aff" stroke-width="1.3" fill="none" stroke-linejoin="round" stroke-linecap="round"/>
<path d="M33.60 144.20V252.30M160.80 144.20V252.30" fill="none" stroke="#666" stroke-width="1.7"/>
<path d="M32.75 144.20H161.65M32.75 252.30H161.65" fill="none" stroke="#3a3a3a" stroke-width="1.25"/>
<path d="M33.60 252.30v2.0M41.55 252.30v1.3M49.50 252.30v2.0M57.45 252.30v1.3M65.40 252.30v2.0M73.35 252.30v1.3M81.30 252.30v2.0M89.25 252.30v1.3M97.20 252.30v2.0M105.15 252.30v1.3M113.10 252.30v2.0M121.05 252.30v1.3M129.00 252.30v2.0M136.95 252.30v1.3M144.90 252.30v2.0M152.85 252.30v1.3M160.80 252.30v2.0M33.60 252.30h-2.0M33.60 241.49h-1.3M33.60 230.68h-2.0M33.60 219.87h-1.3M33.60 209.06h-2.0M33.60 198.25h-1.3M33.60 187.44h-2.0M33.60 176.63h-1.3M33.60 165.82h-2.0M33.60 155.01h-1.3M33.60 144.20h-2.0" stroke="#505050" stroke-width="0.9" fill="none"/>
<text transform="translate(30.00 254.00) scale(0.9 1.0)" font-size="6.4" text-anchor="end" fill="#1a1a1a" font-weight="normal" stroke="#1a1a1a" stroke-width="0.14">0.0</text>
<text transform="translate(30.00 232.38) scale(0.9 1.0)" font-size="6.4" text-anchor="end" fill="#1a1a1a" font-weight="normal" stroke="#1a1a1a" stroke-width="0.14">0.5</text>
<text transform="translate(30.00 210.76) scale(0.9 1.0)" font-size="6.4" text-anchor="end" fill="#1a1a1a" font-weight="normal" stroke="#1a1a1a" stroke-width="0.14">1.0</text>
<text transform="translate(30.00 189.14) scale(0.9 1.0)" font-size="6.4" text-anchor="end" fill="#1a1a1a" font-weight="normal" stroke="#1a1a1a" stroke-width="0.14">1.5</text>
<text transform="translate(30.00 167.52) scale(0.9 1.0)" font-size="6.4" text-anchor="end" fill="#1a1a1a" font-weight="normal" stroke="#1a1a1a" stroke-width="0.14">2.0</text>
<text transform="translate(30.00 145.90) scale(0.9 1.0)" font-size="6.4" text-anchor="end" fill="#1a1a1a" font-weight="normal" stroke="#1a1a1a" stroke-width="0.14">2.5</text>
<text transform="translate(33.60 261.40) scale(0.9 1.0)" font-size="6.4" text-anchor="middle" fill="#1a1a1a" font-weight="normal" stroke="#1a1a1a" stroke-width="0.14">0</text>
<text transform="translate(49.50 261.40) scale(0.9 1.0)" font-size="6.4" text-anchor="middle" fill="#1a1a1a" font-weight="normal" stroke="#1a1a1a" stroke-width="0.14">2</text>
<text transform="translate(65.40 261.40) scale(0.9 1.0)" font-size="6.4" text-anchor="middle" fill="#1a1a1a" font-weight="normal" stroke="#1a1a1a" stroke-width="0.14">4</text>
<text transform="translate(81.30 261.40) scale(0.9 1.0)" font-size="6.4" text-anchor="middle" fill="#1a1a1a" font-weight="normal" stroke="#1a1a1a" stroke-width="0.14">6</text>
<text transform="translate(97.20 261.40) scale(0.9 1.0)" font-size="6.4" text-anchor="middle" fill="#1a1a1a" font-weight="normal" stroke="#1a1a1a" stroke-width="0.14">8</text>
<text transform="translate(113.10 261.40) scale(0.9 1.0)" font-size="6.4" text-anchor="middle" fill="#1a1a1a" font-weight="normal" stroke="#1a1a1a" stroke-width="0.14">10</text>
<text transform="translate(129.00 261.40) scale(0.9 1.0)" font-size="6.4" text-anchor="middle" fill="#1a1a1a" font-weight="normal" stroke="#1a1a1a" stroke-width="0.14">12</text>
<text transform="translate(144.90 261.40) scale(0.9 1.0)" font-size="6.4" text-anchor="middle" fill="#1a1a1a" font-weight="normal" stroke="#1a1a1a" stroke-width="0.14">14</text>
<text transform="translate(160.80 261.40) scale(0.9 1.0)" font-size="6.4" text-anchor="middle" fill="#1a1a1a" font-weight="normal" stroke="#1a1a1a" stroke-width="0.14">16</text>
<text transform="translate(9.40 151.60) scale(0.9 1.0)" font-size="8.2" text-anchor="start" fill="#111" font-weight="bold" stroke="#111" stroke-width="0.14">B</text>
<text transform="translate(16.20 161.20)" font-size="5.5" text-anchor="start" fill="#111" font-weight="bold" stroke="#111" stroke-width="0.14">L</text>
<text transform="translate(17.6 208.4) rotate(-90) scale(1 0.9)" font-size="7.6" fill="#1a1a1a" stroke="#1a1a1a" stroke-width="0.1">I<tspan font-size="4.8" dy="3.4">0</tspan><tspan dy="-3.4"> (mA)</tspan></text>
<text transform="translate(95.45 270.60) scale(0.85 1.0)" font-size="8.1" text-anchor="middle" fill="#1a1a1a" font-weight="normal" stroke="#1a1a1a" stroke-width="0.14">Time (Days)</text>
<path d="M219.60 216.50 C220.52 217.25 222.67 219.63 225.10 221.00 C227.53 222.37 231.17 223.78 234.20 224.70 C237.23 225.62 240.25 225.98 243.30 226.50 C246.35 227.02 247.93 227.35 252.50 227.80 C257.07 228.25 265.12 228.72 270.70 229.20 C276.28 229.68 280.66 229.83 286.00 230.70 C291.34 231.57 296.83 233.47 302.75 234.40 C308.67 235.33 315.25 235.69 321.50 236.25 C327.75 236.81 334.97 237.38 340.25 237.75 C345.53 238.12 351.04 238.38 353.20 238.50" stroke="#3c3c3c" stroke-width="1.3" fill="none" stroke-linejoin="round" stroke-linecap="round"/>
<path d="M219.60 210.00 C220.82 210.92 223.85 213.97 226.90 215.50 C229.95 217.03 233.63 217.98 237.90 219.20 C242.17 220.42 247.03 221.58 252.50 222.80 C257.97 224.02 265.12 225.43 270.70 226.50 C276.28 227.57 280.66 228.45 286.00 229.20 C291.34 229.95 296.83 230.52 302.75 231.00 C308.67 231.48 315.25 231.78 321.50 232.10 C327.75 232.42 334.97 232.58 340.25 232.90 C345.53 233.22 351.04 233.82 353.20 234.00" stroke="#30309a" stroke-width="1.3" fill="none" stroke-linejoin="round" stroke-linecap="round"/>
<path d="M219.60 210.00 C220.82 210.92 224.47 214.27 226.90 215.50 C229.33 216.73 231.47 217.08 234.20 217.40 C236.93 217.72 240.25 217.10 243.30 217.40 C246.35 217.70 249.45 218.43 252.50 219.20 C255.55 219.97 258.57 221.40 261.60 222.00 C264.63 222.60 266.63 222.73 270.70 222.80 C274.77 222.87 280.66 222.35 286.00 222.40 C291.34 222.45 296.83 222.98 302.75 223.10 C308.67 223.22 315.25 223.10 321.50 223.10 C327.75 223.10 334.97 223.03 340.25 223.10 C345.53 223.17 351.04 223.43 353.20 223.50" stroke="#2a9a9a" stroke-width="1.3" fill="none" stroke-linejoin="round" stroke-linecap="round"/>
<path d="M219.60 207.30 C220.82 207.46 223.85 207.80 226.90 208.25 C229.95 208.70 234.25 209.39 237.90 210.00 C241.55 210.61 245.17 211.28 248.80 211.90 C252.43 212.52 256.05 213.10 259.70 213.70 C263.35 214.30 266.32 214.77 270.70 215.50 C275.08 216.23 280.66 217.45 286.00 218.10 C291.34 218.75 297.46 219.03 302.75 219.40 C308.04 219.77 314.00 219.68 317.75 220.30 C321.50 220.92 322.12 222.17 325.25 223.10 C328.38 224.03 331.84 225.21 336.50 225.90 C341.16 226.59 350.42 227.03 353.20 227.25" stroke="#ff3a3a" stroke-width="1.3" fill="none" stroke-linejoin="round" stroke-linecap="round"/>
<path d="M219.60 202.80 L226.90 205.50 L237.90 209.20 L248.80 212.80 L259.70 215.50 L265.20 218.30 L268.90 221.00 L272.50 223.20 L274.30 223.75 L278.00 222.80 L286.00 222.60 L302.75 224.10 L321.50 224.10 L340.25 224.60 L353.20 225.00" stroke="#3a3aff" stroke-width="1.3" fill="none" stroke-linejoin="round" stroke-linecap="round"/>
<path d="M219.60 198.20 C220.52 199.12 222.67 202.02 225.10 203.70 C227.53 205.38 231.17 207.10 234.20 208.25 C237.23 209.40 240.25 210.51 243.30 210.60 C246.35 210.69 249.77 209.19 252.50 208.80 C255.23 208.41 257.28 208.05 259.70 208.25 C262.12 208.45 264.57 209.47 267.00 210.00 C269.43 210.53 271.13 211.18 274.30 211.40 C277.47 211.62 281.26 211.07 286.00 211.30 C290.74 211.53 296.83 212.39 302.75 212.80 C308.67 213.21 316.50 213.28 321.50 213.75 C326.50 214.22 329.62 215.22 332.75 215.60 C335.88 215.97 336.84 215.75 340.25 216.00 C343.66 216.25 351.04 216.92 353.20 217.10" stroke="#9a3030" stroke-width="1.3" fill="none" stroke-linejoin="round" stroke-linecap="round"/>
<path d="M219.60 191.80 C220.22 192.42 221.47 194.43 223.30 195.50 C225.13 196.57 227.27 197.45 230.60 198.20 C233.93 198.95 239.05 199.53 243.30 200.00 C247.55 200.47 252.45 200.30 256.10 201.00 C259.75 201.70 261.85 203.60 265.20 204.20 C268.55 204.80 272.73 204.27 276.20 204.60 C279.67 204.93 281.57 205.45 286.00 206.20 C290.43 206.95 296.83 208.09 302.75 209.10 C308.67 210.11 315.25 211.22 321.50 212.25 C327.75 213.28 334.97 214.44 340.25 215.25 C345.53 216.06 351.04 216.79 353.20 217.10" stroke="#9a9a2a" stroke-width="1.3" fill="none" stroke-linejoin="round" stroke-linecap="round"/>
<path d="M219.60 194.20 C220.82 194.50 222.95 195.18 226.90 196.00 C230.85 196.82 237.52 198.18 243.30 199.10 C249.08 200.02 256.12 200.80 261.60 201.50 C267.08 202.20 272.13 202.65 276.20 203.30 C280.27 203.95 281.57 204.43 286.00 205.40 C290.43 206.37 296.83 208.02 302.75 209.10 C308.67 210.18 315.25 211.12 321.50 211.90 C327.75 212.68 334.97 213.28 340.25 213.75 C345.53 214.22 351.04 214.54 353.20 214.70" stroke="#ff3399" stroke-width="1.3" fill="none" stroke-linejoin="round" stroke-linecap="round"/>
<path d="M219.60 172.25 C221.43 172.86 226.65 174.59 230.60 175.90 C234.55 177.21 238.73 178.88 243.30 180.10 C247.87 181.32 253.43 181.98 258.00 183.20 C262.57 184.42 266.03 186.30 270.70 187.40 C275.37 188.50 280.66 189.22 286.00 189.80 C291.34 190.38 296.83 190.72 302.75 190.90 C308.67 191.08 315.25 191.05 321.50 190.90 C327.75 190.75 334.97 190.00 340.25 190.00 C345.53 190.00 351.04 190.75 353.20 190.90" stroke="#ff33ff" stroke-width="1.3" fill="none" stroke-linejoin="round" stroke-linecap="round"/>
<path d="M219.60 154.90 C221.43 155.45 226.65 157.03 230.60 158.20 C234.55 159.37 239.65 161.08 243.30 161.90 C246.95 162.72 249.15 162.43 252.50 163.10 C255.85 163.77 259.45 164.98 263.40 165.90 C267.35 166.82 272.77 167.40 276.20 168.60 C279.63 169.80 282.07 172.05 284.00 173.10 C285.93 174.15 284.62 174.50 287.75 174.90 C290.88 175.30 297.12 175.33 302.75 175.50 C308.38 175.67 315.25 175.68 321.50 175.90 C327.75 176.12 335.88 176.43 340.25 176.80 C344.62 177.17 345.59 177.85 347.75 178.10 C349.91 178.35 352.29 178.27 353.20 178.30" stroke="#2a9a2a" stroke-width="1.3" fill="none" stroke-linejoin="round" stroke-linecap="round"/>
<path d="M219.10 147.70V262.30M353.60 147.70V262.30" fill="none" stroke="#666" stroke-width="1.7"/>
<path d="M218.25 147.70H354.45M218.25 262.30H354.45" fill="none" stroke="#3a3a3a" stroke-width="1.25"/>
<path d="M219.10 262.30v2.0M227.51 262.30v1.3M235.91 262.30v2.0M244.32 262.30v1.3M252.72 262.30v2.0M261.13 262.30v1.3M269.54 262.30v2.0M277.94 262.30v1.3M286.35 262.30v2.0M294.76 262.30v1.3M303.16 262.30v2.0M311.57 262.30v1.3M319.98 262.30v2.0M328.38 262.30v1.3M336.79 262.30v2.0M345.19 262.30v1.3M353.60 262.30v2.0M219.10 262.30h-2.0M219.10 256.57h-1.3M219.10 250.84h-2.0M219.10 245.11h-1.3M219.10 239.38h-2.0M219.10 233.65h-1.3M219.10 227.92h-2.0M219.10 222.19h-1.3M219.10 216.46h-2.0M219.10 210.73h-1.3M219.10 205.00h-2.0M219.10 199.27h-1.3M219.10 193.54h-2.0M219.10 187.81h-1.3M219.10 182.08h-2.0M219.10 176.35h-1.3M219.10 170.62h-2.0M219.10 164.89h-1.3M219.10 159.16h-2.0M219.10 153.43h-1.3M219.10 147.70h-2.0" stroke="#505050" stroke-width="0.9" fill="none"/>
<text transform="translate(215.50 264.00) scale(0.97 1.0)" font-size="6.9" text-anchor="end" fill="#1a1a1a" font-weight="normal" stroke="#1a1a1a" stroke-width="0.14">0.0</text>
<text transform="translate(215.50 252.54) scale(0.97 1.0)" font-size="6.9" text-anchor="end" fill="#1a1a1a" font-weight="normal" stroke="#1a1a1a" stroke-width="0.14">0.5</text>
<text transform="translate(215.50 241.08) scale(0.97 1.0)" font-size="6.9" text-anchor="end" fill="#1a1a1a" font-weight="normal" stroke="#1a1a1a" stroke-width="0.14">1.0</text>
<text transform="translate(215.50 229.62) scale(0.97 1.0)" font-size="6.9" text-anchor="end" fill="#1a1a1a" font-weight="normal" stroke="#1a1a1a" stroke-width="0.14">1.5</text>
<text transform="translate(215.50 218.16) scale(0.97 1.0)" font-size="6.9" text-anchor="end" fill="#1a1a1a" font-weight="normal" stroke="#1a1a1a" stroke-width="0.14">2.0</text>
<text transform="translate(215.50 206.70) scale(0.97 1.0)" font-size="6.9" text-anchor="end" fill="#1a1a1a" font-weight="normal" stroke="#1a1a1a" stroke-width="0.14">2.5</text>
<text transform="translate(215.50 195.24) scale(0.97 1.0)" font-size="6.9" text-anchor="end" fill="#1a1a1a" font-weight="normal" stroke="#1a1a1a" stroke-width="0.14">3.0</text>
<text transform="translate(215.50 183.78) scale(0.97 1.0)" font-size="6.9" text-anchor="end" fill="#1a1a1a" font-weight="normal" stroke="#1a1a1a" stroke-width="0.14">3.5</text>
<text transform="translate(215.50 172.32) scale(0.97 1.0)" font-size="6.9" text-anchor="end" fill="#1a1a1a" font-weight="normal" stroke="#1a1a1a" stroke-width="0.14">4.0</text>
<text transform="translate(215.50 160.86) scale(0.97 1.0)" font-size="6.9" text-anchor="end" fill="#1a1a1a" font-weight="normal" stroke="#1a1a1a" stroke-width="0.14">4.5</text>
<text transform="translate(215.50 149.40) scale(0.97 1.0)" font-size="6.9" text-anchor="end" fill="#1a1a1a" font-weight="normal" stroke="#1a1a1a" stroke-width="0.14">5.0</text>
<text transform="translate(219.10 271.40) scale(0.97 1.0)" font-size="6.4" text-anchor="middle" fill="#1a1a1a" font-weight="normal" stroke="#1a1a1a" stroke-width="0.14">0</text>
<text transform="translate(235.91 271.40) scale(0.97 1.0)" font-size="6.4" text-anchor="middle" fill="#1a1a1a" font-weight="normal" stroke="#1a1a1a" stroke-width="0.14">2</text>
<text transform="translate(252.72 271.40) scale(0.97 1.0)" font-size="6.4" text-anchor="middle" fill="#1a1a1a" font-weight="normal" stroke="#1a1a1a" stroke-width="0.14">4</text>
<text transform="translate(269.54 271.40) scale(0.97 1.0)" font-size="6.4" text-anchor="middle" fill="#1a1a1a" font-weight="normal" stroke="#1a1a1a" stroke-width="0.14">6</text>
<text transform="translate(286.35 271.40) scale(0.97 1.0)" font-size="6.4" text-anchor="middle" fill="#1a1a1a" font-weight="normal" stroke="#1a1a1a" stroke-width="0.14">8</text>
<text transform="translate(303.16 271.40) scale(0.97 1.0)" font-size="6.4" text-anchor="middle" fill="#1a1a1a" font-weight="normal" stroke="#1a1a1a" stroke-width="0.14">10</text>
<text transform="translate(319.98 271.40) scale(0.97 1.0)" font-size="6.4" text-anchor="middle" fill="#1a1a1a" font-weight="normal" stroke="#1a1a1a" stroke-width="0.14">12</text>
<text transform="translate(336.79 271.40) scale(0.97 1.0)" font-size="6.4" text-anchor="middle" fill="#1a1a1a" font-weight="normal" stroke="#1a1a1a" stroke-width="0.14">14</text>
<text transform="translate(353.60 271.40) scale(0.97 1.0)" font-size="6.4" text-anchor="middle" fill="#1a1a1a" font-weight="normal" stroke="#1a1a1a" stroke-width="0.14">16</text>
<text transform="translate(194.90 160.70) scale(0.85 1.0)" font-size="6.3" text-anchor="start" fill="#111" font-weight="bold" stroke="#111" stroke-width="0.14">R</text>
<text transform="translate(198.7 213.3) rotate(-90)" font-size="7.4" fill="#1a1a1a" stroke="#1a1a1a" stroke-width="0.1">I<tspan font-size="5" dy="3.2">0</tspan></text>
<text transform="translate(287.00 280.20) scale(0.89 1.0)" font-size="8.1" text-anchor="middle" fill="#1a1a1a" font-weight="normal" stroke="#1a1a1a" stroke-width="0.14">Time (days)</text>
<path d="M34.00 357.30 C34.40 358.83 35.55 363.30 36.40 366.50 C37.25 369.70 37.73 374.62 39.10 376.50 C40.47 378.38 40.03 377.50 44.60 377.80 C49.17 378.10 57.27 378.07 66.50 378.30 C75.73 378.53 84.37 378.98 100.00 379.20 C115.63 379.42 150.25 379.53 160.30 379.60" stroke="#9a3030" stroke-width="1.3" fill="none" stroke-linejoin="round" stroke-linecap="round"/>
<path d="M34.00 354.60 C34.55 355.97 36.15 360.07 37.30 362.80 C38.45 365.53 39.38 368.72 40.90 371.00 C42.42 373.28 43.67 375.28 46.40 376.50 C49.13 377.72 48.37 377.95 57.30 378.30 C66.23 378.65 82.83 378.45 100.00 378.60 C117.17 378.75 150.25 379.10 160.30 379.20" stroke="#9a9a2a" stroke-width="1.3" fill="none" stroke-linejoin="round" stroke-linecap="round"/>
<path d="M34.00 354.10 C35.77 354.33 40.72 354.97 44.60 355.50 C48.48 356.03 53.65 356.68 57.30 357.30 C60.95 357.92 62.85 358.43 66.50 359.20 C70.15 359.97 76.17 360.85 79.20 361.90 C82.23 362.95 82.07 363.93 84.70 365.50 C87.33 367.07 89.12 369.97 95.00 371.30 C100.88 372.63 109.12 372.85 120.00 373.50 C130.88 374.15 153.58 374.92 160.30 375.20" stroke="#2a9a9a" stroke-width="1.3" fill="none" stroke-linejoin="round" stroke-linecap="round"/>
<path d="M34.00 326.70 C34.42 326.80 35.65 326.32 36.50 327.30 C37.35 328.28 38.23 330.48 39.10 332.60 C39.97 334.72 40.78 338.00 41.70 340.00 C42.62 342.00 43.22 342.02 44.60 344.60 C45.98 347.18 47.88 352.47 50.00 355.50 C52.12 358.53 54.55 360.97 57.30 362.80 C60.05 364.63 62.55 365.43 66.50 366.50 C70.45 367.57 75.42 368.15 81.00 369.20 C86.58 370.25 91.58 371.73 100.00 372.80 C108.42 373.87 121.45 374.90 131.50 375.60 C141.55 376.30 155.50 376.77 160.30 377.00" stroke="#ff9a33" stroke-width="1.3" fill="none" stroke-linejoin="round" stroke-linecap="round"/>
<path d="M34.00 347.30 C35.15 347.45 38.83 347.43 40.90 348.20 C42.97 348.97 44.27 349.92 46.40 351.90 C48.53 353.88 50.97 357.67 53.70 360.10 C56.43 362.53 59.15 364.68 62.80 366.50 C66.45 368.32 71.95 370.03 75.60 371.00 C79.25 371.97 80.63 372.03 84.70 372.30 C88.77 372.57 92.20 372.42 100.00 372.60 C107.80 372.78 121.45 373.22 131.50 373.40 C141.55 373.58 155.50 373.65 160.30 373.70" stroke="#3a3aff" stroke-width="1.3" fill="none" stroke-linejoin="round" stroke-linecap="round"/>
<path d="M34.00 331.90 C35.15 332.33 38.75 333.52 40.90 334.50 C43.05 335.48 44.77 335.52 46.90 337.80 C49.03 340.08 51.65 344.95 53.70 348.20 C55.75 351.45 57.38 354.57 59.20 357.30 C61.02 360.03 61.87 362.92 64.60 364.60 C67.33 366.28 69.70 366.90 75.60 367.40 C81.50 367.90 90.68 367.15 100.00 367.60 C109.32 368.05 121.45 369.53 131.50 370.10 C141.55 370.67 155.50 370.85 160.30 371.00" stroke="#ff33ff" stroke-width="1.3" fill="none" stroke-linejoin="round" stroke-linecap="round"/>
<path d="M33.90 312.80 C34.55 312.52 36.07 311.53 37.80 311.10 C39.53 310.67 42.35 309.98 44.30 310.20 C46.25 310.42 47.77 311.38 49.50 312.40 C51.23 313.42 53.40 314.90 54.70 316.30 C56.00 317.70 56.43 318.75 57.30 320.80 C58.17 322.85 58.98 325.55 59.90 328.60 C60.82 331.65 61.70 336.13 62.80 339.10 C63.90 342.07 64.98 343.97 66.50 346.40 C68.02 348.83 69.78 351.57 71.90 353.70 C74.02 355.83 76.77 357.68 79.20 359.20 C81.63 360.72 83.03 361.90 86.50 362.80 C89.97 363.70 95.55 364.15 100.00 364.60 C104.45 365.05 107.95 365.18 113.20 365.50 C118.45 365.82 123.65 366.50 131.50 366.50 C139.35 366.50 155.50 365.67 160.30 365.50" stroke="#ff3a3a" stroke-width="1.3" fill="none" stroke-linejoin="round" stroke-linecap="round"/>
<path d="M33.90 323.40 C34.98 322.53 38.23 319.32 40.40 318.20 C42.57 317.08 44.73 316.95 46.90 316.70 C49.07 316.45 51.01 316.70 53.40 316.70 C55.79 316.70 58.85 316.55 61.25 316.70 C63.65 316.85 65.62 316.92 67.80 317.60 C69.97 318.28 72.27 319.50 74.30 320.80 C76.33 322.10 78.27 323.45 80.00 325.40 C81.73 327.35 83.32 330.82 84.70 332.50 C86.08 334.18 86.48 333.18 88.30 335.50 C90.12 337.82 93.88 343.67 95.60 346.40 C97.32 349.13 97.48 349.77 98.60 351.90 C99.72 354.03 100.47 357.38 102.30 359.20 C104.13 361.02 104.73 361.75 109.60 362.80 C114.47 363.85 123.05 364.95 131.50 365.50 C139.95 366.05 155.50 366.00 160.30 366.10" stroke="#ff3399" stroke-width="1.3" fill="none" stroke-linejoin="round" stroke-linecap="round"/>
<path d="M33.90 318.20 C34.77 317.73 37.37 316.15 39.10 315.40 C40.83 314.65 42.57 313.77 44.30 313.70 C46.03 313.63 47.55 315.28 49.50 315.00 C51.45 314.72 53.82 312.43 56.00 312.00 C58.18 311.57 59.98 312.02 62.60 312.40 C65.22 312.78 69.10 313.80 71.70 314.30 C74.30 314.80 76.65 313.88 78.20 315.40 C79.75 316.92 79.92 320.85 81.00 323.40 C82.08 325.95 83.17 328.60 84.70 330.70 C86.23 332.80 88.48 334.45 90.20 336.00 C91.92 337.55 92.98 338.27 95.00 340.00 C97.02 341.73 99.87 344.67 102.30 346.40 C104.73 348.13 106.27 349.18 109.60 350.40 C112.93 351.62 118.35 352.60 122.30 353.70 C126.25 354.80 130.57 355.33 133.30 357.00 C136.03 358.67 134.20 362.58 138.70 363.70 C143.20 364.82 156.70 363.70 160.30 363.70" stroke="#3a3acc" stroke-width="1.3" fill="none" stroke-linejoin="round" stroke-linecap="round"/>
<path d="M33.90 327.30 C34.98 326.98 38.23 326.27 40.40 325.40 C42.57 324.53 44.73 323.08 46.90 322.10 C49.07 321.12 51.45 320.37 53.40 319.50 C55.35 318.63 56.85 318.08 58.60 316.90 C60.35 315.72 62.37 313.70 63.90 312.40 C65.43 311.10 66.28 309.53 67.80 309.10 C69.32 308.67 70.97 309.47 73.00 309.80 C75.03 310.13 78.05 310.20 80.00 311.10 C81.95 312.00 82.70 313.77 84.70 315.20 C86.70 316.63 90.28 318.78 92.00 319.70 C93.72 320.62 93.90 319.78 95.00 320.70 C96.10 321.62 97.23 322.65 98.60 325.20 C99.97 327.75 101.98 333.07 103.20 336.00 C104.42 338.93 104.83 340.47 105.90 342.80 C106.97 345.13 107.77 348.18 109.60 350.00 C111.43 351.82 113.25 352.02 116.90 353.70 C120.55 355.38 127.87 358.58 131.50 360.10 C135.13 361.62 133.90 362.35 138.70 362.80 C143.50 363.25 156.70 362.80 160.30 362.80" stroke="#3c3c3c" stroke-width="1.3" fill="none" stroke-linejoin="round" stroke-linecap="round"/>
<path d="M33.90 329.30 C34.98 328.75 38.45 327.42 40.40 326.00 C42.35 324.58 43.87 322.75 45.60 320.80 C47.33 318.85 49.07 316.25 50.80 314.30 C52.53 312.35 54.26 310.28 56.00 309.10 C57.74 307.92 59.08 307.30 61.25 307.20 C63.42 307.10 66.61 308.07 69.00 308.50 C71.39 308.93 73.90 308.83 75.60 309.80 C77.30 310.77 77.68 312.65 79.20 314.30 C80.72 315.95 82.57 318.95 84.70 319.70 C86.83 320.45 89.45 318.48 92.00 318.80 C94.55 319.12 97.07 319.62 100.00 321.60 C102.93 323.58 106.78 328.08 109.60 330.70 C112.42 333.32 113.87 334.68 116.90 337.30 C119.93 339.92 124.77 344.58 127.80 346.40 C130.83 348.22 132.07 347.60 135.10 348.20 C138.13 348.80 141.80 349.08 146.00 350.00 C150.20 350.92 157.92 353.08 160.30 353.70" stroke="#2a9a2a" stroke-width="1.3" fill="none" stroke-linejoin="round" stroke-linecap="round"/>
<path d="M34.00 295.10 C35.15 294.65 38.53 293.30 40.90 292.40 C43.27 291.50 45.47 291.07 48.20 289.70 C50.93 288.33 54.25 285.27 57.30 284.20 C60.35 283.13 63.15 283.60 66.50 283.30 C69.85 283.00 75.13 282.10 77.40 282.40 C79.67 282.70 78.88 282.83 80.10 285.10 C81.32 287.37 83.02 293.87 84.70 296.00 C86.38 298.13 88.48 297.28 90.20 297.90 C91.92 298.52 92.98 299.10 95.00 299.70 C97.02 300.30 100.17 300.83 102.30 301.50 C104.43 302.17 105.98 303.08 107.80 303.70 C109.62 304.32 111.38 303.90 113.20 305.20 C115.02 306.50 116.87 308.47 118.70 311.50 C120.53 314.53 122.53 319.32 124.20 323.40 C125.87 327.48 127.80 333.68 128.70 336.00 C129.60 338.32 128.53 336.17 129.60 337.30 C130.67 338.43 132.67 341.83 135.10 342.80 C137.53 343.77 140.00 342.57 144.20 343.10 C148.40 343.63 157.62 345.52 160.30 346.00" stroke="#30309a" stroke-width="1.3" fill="none" stroke-linejoin="round" stroke-linecap="round"/>
<path d="M34.00 299.70 C34.55 298.63 35.53 295.12 37.30 293.30 C39.07 291.48 42.17 289.40 44.60 288.80 C47.03 288.20 48.87 290.02 51.90 289.70 C54.93 289.38 59.47 287.52 62.80 286.90 C66.13 286.28 69.17 286.30 71.90 286.00 C74.63 285.70 76.92 284.03 79.20 285.10 C81.48 286.17 83.47 291.48 85.60 292.40 C87.73 293.32 90.43 291.15 92.00 290.60 C93.57 290.05 93.28 289.35 95.00 289.10 C96.72 288.85 100.17 288.85 102.30 289.10 C104.43 289.35 106.28 290.72 107.80 290.60 C109.32 290.48 108.98 288.87 111.40 288.40 C113.82 287.93 119.87 287.43 122.30 287.80 C124.73 288.17 124.78 289.23 126.00 290.60 C127.22 291.97 128.38 294.78 129.60 296.00 C130.82 297.22 132.23 296.07 133.30 297.90 C134.37 299.73 135.10 303.52 136.00 307.00 C136.90 310.48 137.33 316.07 138.70 318.80 C140.07 321.53 142.07 321.57 144.20 323.40 C146.33 325.23 148.82 328.35 151.50 329.80 C154.18 331.25 158.83 331.72 160.30 332.10" stroke="#9a33bb" stroke-width="1.3" fill="none" stroke-linejoin="round" stroke-linecap="round"/>
<path d="M33.70 278.90V387.00M160.90 278.90V387.00" fill="none" stroke="#666" stroke-width="1.7"/>
<path d="M32.85 278.90H161.75M32.85 387.00H161.75" fill="none" stroke="#3a3a3a" stroke-width="1.25"/>
<path d="M33.70 387.00v2.0M41.65 387.00v1.3M49.60 387.00v2.0M57.55 387.00v1.3M65.50 387.00v2.0M73.45 387.00v1.3M81.40 387.00v2.0M89.35 387.00v1.3M97.30 387.00v2.0M105.25 387.00v1.3M113.20 387.00v2.0M121.15 387.00v1.3M129.10 387.00v2.0M137.05 387.00v1.3M145.00 387.00v2.0M152.95 387.00v1.3M160.90 387.00v2.0M33.70 387.00h-2.0M33.70 381.60h-1.3M33.70 376.19h-2.0M33.70 370.78h-1.3M33.70 365.38h-2.0M33.70 359.98h-1.3M33.70 354.57h-2.0M33.70 349.16h-1.3M33.70 343.76h-2.0M33.70 338.36h-1.3M33.70 332.95h-2.0M33.70 327.54h-1.3M33.70 322.14h-2.0M33.70 316.74h-1.3M33.70 311.33h-2.0M33.70 305.92h-1.3M33.70 300.52h-2.0M33.70 295.11h-1.3M33.70 289.71h-2.0M33.70 284.30h-1.3M33.70 278.90h-2.0" stroke="#505050" stroke-width="0.9" fill="none"/>
<text transform="translate(30.10 388.70) scale(0.9 1.0)" font-size="6.4" text-anchor="end" fill="#1a1a1a" font-weight="normal" stroke="#1a1a1a" stroke-width="0.14">0.00</text>
<text transform="translate(30.10 377.89) scale(0.9 1.0)" font-size="6.4" text-anchor="end" fill="#1a1a1a" font-weight="normal" stroke="#1a1a1a" stroke-width="0.14">0.05</text>
<text transform="translate(30.10 367.08) scale(0.9 1.0)" font-size="6.4" text-anchor="end" fill="#1a1a1a" font-weight="normal" stroke="#1a1a1a" stroke-width="0.14">0.10</text>
<text transform="translate(30.10 356.27) scale(0.9 1.0)" font-size="6.4" text-anchor="end" fill="#1a1a1a" font-weight="normal" stroke="#1a1a1a" stroke-width="0.14">0.15</text>
<text transform="translate(30.10 345.46) scale(0.9 1.0)" font-size="6.4" text-anchor="end" fill="#1a1a1a" font-weight="normal" stroke="#1a1a1a" stroke-width="0.14">0.20</text>
<text transform="translate(30.10 334.65) scale(0.9 1.0)" font-size="6.4" text-anchor="end" fill="#1a1a1a" font-weight="normal" stroke="#1a1a1a" stroke-width="0.14">0.25</text>
<text transform="translate(30.10 323.84) scale(0.9 1.0)" font-size="6.4" text-anchor="end" fill="#1a1a1a" font-weight="normal" stroke="#1a1a1a" stroke-width="0.14">0.30</text>
<text transform="translate(30.10 313.03) scale(0.9 1.0)" font-size="6.4" text-anchor="end" fill="#1a1a1a" font-weight="normal" stroke="#1a1a1a" stroke-width="0.14">0.35</text>
<text transform="translate(30.10 302.22) scale(0.9 1.0)" font-size="6.4" text-anchor="end" fill="#1a1a1a" font-weight="normal" stroke="#1a1a1a" stroke-width="0.14">0.40</text>
<text transform="translate(30.10 291.41) scale(0.9 1.0)" font-size="6.4" text-anchor="end" fill="#1a1a1a" font-weight="normal" stroke="#1a1a1a" stroke-width="0.14">0.45</text>
<text transform="translate(30.10 280.60) scale(0.9 1.0)" font-size="6.4" text-anchor="end" fill="#1a1a1a" font-weight="normal" stroke="#1a1a1a" stroke-width="0.14">0.50</text>
<text transform="translate(33.70 396.10) scale(0.9 1.0)" font-size="6.4" text-anchor="middle" fill="#1a1a1a" font-weight="normal" stroke="#1a1a1a" stroke-width="0.14">0</text>
<text transform="translate(49.60 396.10) scale(0.9 1.0)" font-size="6.4" text-anchor="middle" fill="#1a1a1a" font-weight="normal" stroke="#1a1a1a" stroke-width="0.14">2</text>
<text transform="translate(65.50 396.10) scale(0.9 1.0)" font-size="6.4" text-anchor="middle" fill="#1a1a1a" font-weight="normal" stroke="#1a1a1a" stroke-width="0.14">4</text>
<text transform="translate(81.40 396.10) scale(0.9 1.0)" font-size="6.4" text-anchor="middle" fill="#1a1a1a" font-weight="normal" stroke="#1a1a1a" stroke-width="0.14">6</text>
<text transform="translate(97.30 396.10) scale(0.9 1.0)" font-size="6.4" text-anchor="middle" fill="#1a1a1a" font-weight="normal" stroke="#1a1a1a" stroke-width="0.14">8</text>
<text transform="translate(113.20 396.10) scale(0.9 1.0)" font-size="6.4" text-anchor="middle" fill="#1a1a1a" font-weight="normal" stroke="#1a1a1a" stroke-width="0.14">10</text>
<text transform="translate(129.10 396.10) scale(0.9 1.0)" font-size="6.4" text-anchor="middle" fill="#1a1a1a" font-weight="normal" stroke="#1a1a1a" stroke-width="0.14">12</text>
<text transform="translate(145.00 396.10) scale(0.9 1.0)" font-size="6.4" text-anchor="middle" fill="#1a1a1a" font-weight="normal" stroke="#1a1a1a" stroke-width="0.14">14</text>
<text transform="translate(160.90 396.10) scale(0.9 1.0)" font-size="6.4" text-anchor="middle" fill="#1a1a1a" font-weight="normal" stroke="#1a1a1a" stroke-width="0.14">16</text>
<text transform="translate(9.20 286.90) scale(0.88 1.0)" font-size="8.2" text-anchor="start" fill="#111" font-weight="bold" stroke="#111" stroke-width="0.14">C</text>
<text transform="translate(16.20 298.00)" font-size="5.5" text-anchor="start" fill="#111" font-weight="bold" stroke="#111" stroke-width="0.14">L</text>
<text transform="translate(12.00 335.80) rotate(-90) scale(1.0 0.9)" font-size="7.4" text-anchor="middle" fill="#1a1a1a" font-weight="normal" stroke="#1a1a1a" stroke-width="0.14">Response (R)</text>
<text transform="translate(97.70 407.40) scale(0.87 1.0)" font-size="8.1" text-anchor="middle" fill="#1a1a1a" font-weight="normal" stroke="#1a1a1a" stroke-width="0.14">Time (Days)</text>
<path d="M222.00 369.70 C222.85 369.32 225.33 367.63 227.10 367.40 C228.87 367.17 230.47 367.85 232.60 368.30 C234.73 368.75 237.47 369.35 239.90 370.10 C242.33 370.85 245.08 371.58 247.20 372.80 C249.32 374.02 250.78 375.72 252.60 377.40 C254.42 379.08 255.97 381.53 258.10 382.90 C260.23 384.27 262.97 384.93 265.40 385.60 C267.83 386.27 268.93 386.45 272.70 386.90 C276.47 387.35 282.99 387.85 288.00 388.30 C293.01 388.75 292.08 389.32 302.75 389.60 C313.42 389.88 343.79 389.93 352.00 390.00" stroke="#2a9a9a" stroke-width="1.3" fill="none" stroke-linejoin="round" stroke-linecap="round"/>
<path d="M222.00 357.00 C223.15 356.90 226.53 356.03 228.90 356.40 C231.27 356.77 233.47 358.28 236.20 359.20 C238.93 360.12 242.25 361.00 245.30 361.90 C248.35 362.80 251.76 363.53 254.50 364.60 C257.24 365.67 259.63 366.78 261.75 368.30 C263.87 369.82 265.38 371.88 267.20 373.70 C269.02 375.52 270.57 377.67 272.70 379.20 C274.83 380.73 277.45 382.07 280.00 382.90 C282.55 383.73 284.21 383.80 288.00 384.20 C291.79 384.60 292.08 385.02 302.75 385.30 C313.42 385.58 343.79 385.80 352.00 385.90" stroke="#ff33ff" stroke-width="1.3" fill="none" stroke-linejoin="round" stroke-linecap="round"/>
<path d="M222.00 357.30 C223.15 357.00 226.53 355.65 228.90 355.50 C231.27 355.35 233.47 355.78 236.20 356.40 C238.93 357.02 242.25 358.28 245.30 359.20 C248.35 360.12 251.45 361.15 254.50 361.90 C257.55 362.65 260.87 362.93 263.60 363.70 C266.33 364.47 268.78 365.28 270.90 366.50 C273.02 367.72 274.78 369.03 276.30 371.00 C277.82 372.97 278.05 376.78 280.00 378.30 C281.95 379.82 284.21 379.08 288.00 380.10 C291.79 381.12 297.17 383.53 302.75 384.40 C308.33 385.27 315.25 385.24 321.50 385.30 C327.75 385.36 335.17 384.90 340.25 384.75 C345.33 384.60 350.04 384.46 352.00 384.40" stroke="#2a9a2a" stroke-width="1.3" fill="none" stroke-linejoin="round" stroke-linecap="round"/>
<path d="M222.00 337.30 C222.55 337.30 224.30 337.60 225.30 337.30 C226.30 337.00 226.78 335.75 228.00 335.50 C229.22 335.25 230.93 335.35 232.60 335.80 C234.27 336.25 235.88 337.20 238.00 338.20 C240.12 339.20 242.87 340.58 245.30 341.80 C247.73 343.02 250.47 344.28 252.60 345.50 C254.73 346.72 256.58 347.73 258.10 349.10 C259.62 350.47 260.53 351.72 261.75 353.70 C262.97 355.68 264.19 358.57 265.40 361.00 C266.61 363.43 267.78 366.33 269.00 368.30 C270.22 370.27 270.87 371.43 272.70 372.80 C274.53 374.17 277.45 375.77 280.00 376.50 C282.55 377.23 284.21 376.88 288.00 377.20 C291.79 377.52 297.17 378.08 302.75 378.40 C308.33 378.72 315.25 378.88 321.50 379.10 C327.75 379.32 335.17 379.51 340.25 379.70 C345.33 379.89 350.04 380.16 352.00 380.25" stroke="#3a3aff" stroke-width="1.3" fill="none" stroke-linejoin="round" stroke-linecap="round"/>
<path d="M222.00 355.50 C223.15 355.35 226.53 354.83 228.90 354.60 C231.27 354.37 233.47 354.18 236.20 354.10 C238.93 354.02 242.25 354.02 245.30 354.10 C248.35 354.18 251.15 354.37 254.50 354.60 C257.85 354.83 261.77 355.10 265.40 355.50 C269.03 355.90 273.20 356.57 276.30 357.00 C279.40 357.43 281.15 357.45 284.00 358.10 C286.85 358.75 290.27 359.80 293.40 360.90 C296.52 362.00 299.63 363.45 302.75 364.70 C305.87 365.95 308.98 367.15 312.10 368.40 C315.23 369.65 318.37 370.95 321.50 372.20 C324.63 373.45 327.77 374.97 330.90 375.90 C334.02 376.83 336.73 377.95 340.25 377.80 C343.77 377.65 350.04 375.47 352.00 375.00" stroke="#ff3399" stroke-width="1.3" fill="none" stroke-linejoin="round" stroke-linecap="round"/>
<path d="M222.00 356.40 C223.15 356.10 226.53 355.05 228.90 354.60 C231.27 354.15 233.47 353.85 236.20 353.70 C238.93 353.55 242.25 353.55 245.30 353.70 C248.35 353.85 251.45 354.15 254.50 354.60 C257.55 355.05 260.57 355.95 263.60 356.40 C266.63 356.85 270.27 356.83 272.70 357.30 C275.13 357.77 276.68 358.13 278.20 359.20 C279.72 360.27 280.17 362.87 281.80 363.70 C283.43 364.53 285.45 364.19 288.00 364.20 C290.55 364.21 294.64 363.20 297.10 363.75 C299.56 364.30 300.25 366.41 302.75 367.50 C305.25 368.59 308.98 369.43 312.10 370.30 C315.23 371.18 318.37 372.12 321.50 372.75 C324.63 373.38 327.77 373.73 330.90 374.10 C334.02 374.48 336.73 374.92 340.25 375.00 C343.77 375.08 350.04 374.67 352.00 374.60" stroke="#30309a" stroke-width="1.3" fill="none" stroke-linejoin="round" stroke-linecap="round"/>
<path d="M222.00 364.60 C222.55 363.70 224.15 361.32 225.30 359.20 C226.45 357.08 227.38 354.03 228.90 351.90 C230.42 349.77 231.97 347.87 234.40 346.40 C236.83 344.93 241.53 342.95 243.50 343.10 C245.47 343.25 245.03 345.53 246.25 347.30 C247.47 349.07 249.43 352.18 250.80 353.70 C252.18 355.22 252.98 355.85 254.50 356.40 C256.02 356.95 258.38 357.15 259.90 357.00 C261.42 356.85 262.08 356.20 263.60 355.50 C265.12 354.80 266.88 353.10 269.00 352.80 C271.12 352.50 273.80 353.28 276.30 353.70 C278.80 354.12 281.15 354.93 284.00 355.30 C286.85 355.67 290.27 355.43 293.40 355.90 C296.52 356.37 299.63 357.10 302.75 358.10 C305.87 359.10 309.29 360.65 312.10 361.90 C314.91 363.15 317.72 364.20 319.60 365.60 C321.48 367.00 321.83 368.58 323.40 370.30 C324.97 372.02 327.13 374.33 329.00 375.90 C330.87 377.47 332.73 378.97 334.60 379.70 C336.48 380.43 338.37 380.41 340.25 380.25 C342.13 380.09 343.94 379.48 345.90 378.75 C347.86 378.02 350.98 376.38 352.00 375.90" stroke="#9a3030" stroke-width="1.3" fill="none" stroke-linejoin="round" stroke-linecap="round"/>
<path d="M222.00 349.10 C222.85 348.80 225.33 347.82 227.10 347.30 C228.87 346.78 230.47 346.08 232.60 346.00 C234.73 345.92 237.47 346.48 239.90 346.80 C242.33 347.12 244.77 347.52 247.20 347.90 C249.63 348.28 251.77 348.68 254.50 349.10 C257.23 349.52 260.57 350.00 263.60 350.40 C266.63 350.80 269.30 351.22 272.70 351.50 C276.10 351.78 280.87 352.08 284.00 352.10 C287.13 352.12 288.38 351.22 291.50 351.60 C294.62 351.98 299.32 353.47 302.75 354.40 C306.18 355.33 309.29 356.12 312.10 357.20 C314.91 358.28 317.41 359.18 319.60 360.90 C321.79 362.62 323.06 365.15 325.25 367.50 C327.44 369.85 330.56 372.82 332.75 375.00 C334.94 377.18 336.52 379.50 338.40 380.60 C340.27 381.70 341.73 381.75 344.00 381.60 C346.27 381.45 350.67 380.02 352.00 379.70" stroke="#9a9a2a" stroke-width="1.3" fill="none" stroke-linejoin="round" stroke-linecap="round"/>
<path d="M222.00 342.80 C222.55 342.73 224.15 342.70 225.30 342.40 C226.45 342.10 227.08 341.40 228.90 341.00 C230.72 340.60 233.77 340.47 236.20 340.00 C238.63 339.53 241.37 338.35 243.50 338.20 C245.63 338.05 247.17 338.58 249.00 339.10 C250.83 339.62 252.38 340.53 254.50 341.30 C256.62 342.07 259.33 343.15 261.75 343.70 C264.17 344.25 266.26 344.52 269.00 344.60 C271.74 344.68 275.70 344.28 278.20 344.20 C280.70 344.12 281.78 344.22 284.00 344.10 C286.22 343.98 289.32 343.35 291.50 343.50 C293.68 343.65 295.23 344.28 297.10 345.00 C298.98 345.72 300.25 346.87 302.75 347.80 C305.25 348.73 309.60 349.67 312.10 350.60 C314.60 351.53 316.18 351.83 317.75 353.40 C319.32 354.97 320.25 357.97 321.50 360.00 C322.75 362.03 323.68 363.57 325.25 365.60 C326.82 367.63 329.02 370.63 330.90 372.20 C332.77 373.77 334.94 374.78 336.50 375.00 C338.06 375.22 338.68 373.50 340.25 373.50 C341.82 373.50 343.94 374.90 345.90 375.00 C347.86 375.10 350.98 374.25 352.00 374.10" stroke="#ff3a3a" stroke-width="1.3" fill="none" stroke-linejoin="round" stroke-linecap="round"/>
<path d="M222.00 321.00 L224.40 315.50 L227.10 309.20 L231.70 304.60 L235.30 302.80 L239.00 298.20 L242.60 297.30 L247.20 300.00 L252.60 302.80 L257.20 302.80 L261.75 306.40 L266.30 312.40 L272.70 314.60 L278.20 317.40 L280.90 321.90 L283.60 327.40 L287.75 326.90 L293.40 324.10 L302.75 322.75 L310.25 323.10 L315.90 325.00 L323.40 329.10 L329.00 330.60 L334.60 332.50 L336.50 339.40 L339.30 347.80 L341.20 352.50 L345.90 352.10 L352.00 355.30" stroke="#3c3c3c" stroke-width="1.3" fill="none" stroke-linejoin="round" stroke-linecap="round"/>
<path d="M221.50 281.50V392.60M352.50 281.50V392.60" fill="none" stroke="#666" stroke-width="1.7"/>
<path d="M220.65 281.50H353.35M220.65 392.60H353.35" fill="none" stroke="#3a3a3a" stroke-width="1.25"/>
<path d="M221.50 392.60v2.0M229.69 392.60v1.3M237.88 392.60v2.0M246.06 392.60v1.3M254.25 392.60v2.0M262.44 392.60v1.3M270.62 392.60v2.0M278.81 392.60v1.3M287.00 392.60v2.0M295.19 392.60v1.3M303.38 392.60v2.0M311.56 392.60v1.3M319.75 392.60v2.0M327.94 392.60v1.3M336.12 392.60v2.0M344.31 392.60v1.3M352.50 392.60v2.0M221.50 392.60h-2.0M221.50 383.34h-1.3M221.50 374.08h-2.0M221.50 364.82h-1.3M221.50 355.57h-2.0M221.50 346.31h-1.3M221.50 337.05h-2.0M221.50 327.79h-1.3M221.50 318.53h-2.0M221.50 309.27h-1.3M221.50 300.02h-2.0M221.50 290.76h-1.3M221.50 281.50h-2.0" stroke="#505050" stroke-width="0.9" fill="none"/>
<text transform="translate(217.90 394.30) scale(0.9 1.0)" font-size="6.4" text-anchor="end" fill="#1a1a1a" font-weight="normal" stroke="#1a1a1a" stroke-width="0.14">0.0</text>
<text transform="translate(217.90 375.78) scale(0.9 1.0)" font-size="6.4" text-anchor="end" fill="#1a1a1a" font-weight="normal" stroke="#1a1a1a" stroke-width="0.14">0.1</text>
<text transform="translate(217.90 357.27) scale(0.9 1.0)" font-size="6.4" text-anchor="end" fill="#1a1a1a" font-weight="normal" stroke="#1a1a1a" stroke-width="0.14">0.2</text>
<text transform="translate(217.90 338.75) scale(0.9 1.0)" font-size="6.4" text-anchor="end" fill="#1a1a1a" font-weight="normal" stroke="#1a1a1a" stroke-width="0.14">0.3</text>
<text transform="translate(217.90 320.23) scale(0.9 1.0)" font-size="6.4" text-anchor="end" fill="#1a1a1a" font-weight="normal" stroke="#1a1a1a" stroke-width="0.14">0.4</text>
<text transform="translate(217.90 301.72) scale(0.9 1.0)" font-size="6.4" text-anchor="end" fill="#1a1a1a" font-weight="normal" stroke="#1a1a1a" stroke-width="0.14">0.5</text>
<text transform="translate(217.90 283.20) scale(0.9 1.0)" font-size="6.4" text-anchor="end" fill="#1a1a1a" font-weight="normal" stroke="#1a1a1a" stroke-width="0.14">0.6</text>
<text transform="translate(221.50 401.70) scale(0.9 1.0)" font-size="6.4" text-anchor="middle" fill="#1a1a1a" font-weight="normal" stroke="#1a1a1a" stroke-width="0.14">0</text>
<text transform="translate(237.88 401.70) scale(0.9 1.0)" font-size="6.4" text-anchor="middle" fill="#1a1a1a" font-weight="normal" stroke="#1a1a1a" stroke-width="0.14">2</text>
<text transform="translate(254.25 401.70) scale(0.9 1.0)" font-size="6.4" text-anchor="middle" fill="#1a1a1a" font-weight="normal" stroke="#1a1a1a" stroke-width="0.14">4</text>
<text transform="translate(270.62 401.70) scale(0.9 1.0)" font-size="6.4" text-anchor="middle" fill="#1a1a1a" font-weight="normal" stroke="#1a1a1a" stroke-width="0.14">6</text>
<text transform="translate(287.00 401.70) scale(0.9 1.0)" font-size="6.4" text-anchor="middle" fill="#1a1a1a" font-weight="normal" stroke="#1a1a1a" stroke-width="0.14">8</text>
<text transform="translate(303.38 401.70) scale(0.9 1.0)" font-size="6.4" text-anchor="middle" fill="#1a1a1a" font-weight="normal" stroke="#1a1a1a" stroke-width="0.14">10</text>
<text transform="translate(319.75 401.70) scale(0.9 1.0)" font-size="6.4" text-anchor="middle" fill="#1a1a1a" font-weight="normal" stroke="#1a1a1a" stroke-width="0.14">12</text>
<text transform="translate(336.12 401.70) scale(0.9 1.0)" font-size="6.4" text-anchor="middle" fill="#1a1a1a" font-weight="normal" stroke="#1a1a1a" stroke-width="0.14">14</text>
<text transform="translate(352.50 401.70) scale(0.9 1.0)" font-size="6.4" text-anchor="middle" fill="#1a1a1a" font-weight="normal" stroke="#1a1a1a" stroke-width="0.14">16</text>
<text transform="translate(200.10 297.30) scale(0.9 1.0)" font-size="5.6" text-anchor="start" fill="#111" font-weight="bold" stroke="#111" stroke-width="0.14">R</text>
<text transform="translate(202.30 344.60) rotate(-90) scale(1.0 1.18)" font-size="7.0" text-anchor="middle" fill="#1a1a1a" font-weight="normal" stroke="#1a1a1a" stroke-width="0.14">Response (R)</text>
<text transform="translate(287.00 410.60) scale(0.885 1.0)" font-size="8.1" text-anchor="middle" fill="#1a1a1a" font-weight="normal" stroke="#1a1a1a" stroke-width="0.14">Time (Days)</text>
<path d="M34.00 424.20 C34.85 425.17 37.63 427.82 39.10 430.00 C40.57 432.18 41.28 435.02 42.80 437.30 C44.32 439.58 46.08 441.27 48.20 443.70 C50.32 446.13 53.07 449.32 55.50 451.90 C57.93 454.48 60.37 457.22 62.80 459.20 C65.23 461.18 67.90 462.63 70.10 463.80 C72.30 464.97 74.18 465.38 76.00 466.20 C77.82 467.02 79.67 468.02 81.00 468.70 C82.33 469.38 82.53 468.95 84.00 470.30 C85.47 471.65 87.08 474.55 89.80 476.80 C92.52 479.05 96.78 481.17 100.30 483.80 C103.82 486.43 107.38 489.95 110.90 492.60 C114.42 495.25 117.88 497.65 121.40 499.70 C124.92 501.75 127.90 503.15 132.00 504.90 C136.10 506.65 141.18 508.73 146.00 510.20 C150.82 511.67 158.42 513.12 160.90 513.70" stroke="#ff2a2a" stroke-width="1.3" fill="none" stroke-linejoin="round" stroke-linecap="round"/>
<path d="M34.00 424.20 L40.90 426.40 L48.20 429.70 L57.30 435.50 L68.30 442.80 L79.20 445.50 L84.70 448.30 L92.00 449.70 L100.30 450.40 L114.40 453.20 L122.00 453.80 L132.00 454.50 L136.00 455.00 L139.00 458.90 L161.00 459.80" stroke="#2a2aff" stroke-width="1.3" fill="none" stroke-linejoin="round" stroke-linecap="round"/>
<path d="M34.00 424.20 L44.60 427.90 L50.00 430.00 L55.50 431.00 L62.80 435.20 L70.10 438.25 L78.30 441.40 L81.00 445.50 L84.70 450.50 L90.20 451.90 L100.00 458.90 L107.40 464.50 L114.00 467.30 L121.40 469.80 L128.50 475.00 L135.50 480.30 L139.00 482.10 L149.50 483.80 L161.00 485.30" stroke="#1a1a1a" stroke-width="1.3" fill="none" stroke-linejoin="round" stroke-linecap="round"/>
<path d="M33.80 413.90V522.30M160.90 413.90V522.30" fill="none" stroke="#666" stroke-width="1.7"/>
<path d="M32.95 413.90H161.75M32.95 522.30H161.75" fill="none" stroke="#3a3a3a" stroke-width="1.25"/>
<path d="M33.80 522.30v2.0M41.74 522.30v1.3M49.69 522.30v2.0M57.63 522.30v1.3M65.58 522.30v2.0M73.52 522.30v1.3M81.46 522.30v2.0M89.41 522.30v1.3M97.35 522.30v2.0M105.29 522.30v1.3M113.24 522.30v2.0M121.18 522.30v1.3M129.12 522.30v2.0M137.07 522.30v1.3M145.01 522.30v2.0M152.96 522.30v1.3M160.90 522.30v2.0M33.80 522.30h-2.0M33.80 517.37h-1.3M33.80 512.45h-2.0M33.80 507.52h-1.3M33.80 502.59h-2.0M33.80 497.66h-1.3M33.80 492.74h-2.0M33.80 487.81h-1.3M33.80 482.88h-2.0M33.80 477.95h-1.3M33.80 473.03h-2.0M33.80 468.10h-1.3M33.80 463.17h-2.0M33.80 458.25h-1.3M33.80 453.32h-2.0M33.80 448.39h-1.3M33.80 443.46h-2.0M33.80 438.54h-1.3M33.80 433.61h-2.0M33.80 428.68h-1.3M33.80 423.75h-2.0M33.80 418.83h-1.3M33.80 413.90h-2.0" stroke="#505050" stroke-width="0.9" fill="none"/>
<text transform="translate(30.80 524.00) scale(0.9 1.0)" font-size="5.3" text-anchor="end" fill="#1a1a1a" font-weight="normal" stroke="#1a1a1a" stroke-width="0.14">0.0</text>
<text transform="translate(30.80 514.15) scale(0.9 1.0)" font-size="5.3" text-anchor="end" fill="#1a1a1a" font-weight="normal" stroke="#1a1a1a" stroke-width="0.14">0.1</text>
<text transform="translate(30.80 504.29) scale(0.9 1.0)" font-size="5.3" text-anchor="end" fill="#1a1a1a" font-weight="normal" stroke="#1a1a1a" stroke-width="0.14">0.2</text>
<text transform="translate(30.80 494.44) scale(0.9 1.0)" font-size="5.3" text-anchor="end" fill="#1a1a1a" font-weight="normal" stroke="#1a1a1a" stroke-width="0.14">0.3</text>
<text transform="translate(30.80 484.58) scale(0.9 1.0)" font-size="5.3" text-anchor="end" fill="#1a1a1a" font-weight="normal" stroke="#1a1a1a" stroke-width="0.14">0.4</text>
<text transform="translate(30.80 474.73) scale(0.9 1.0)" font-size="5.3" text-anchor="end" fill="#1a1a1a" font-weight="normal" stroke="#1a1a1a" stroke-width="0.14">0.5</text>
<text transform="translate(30.80 464.87) scale(0.9 1.0)" font-size="5.3" text-anchor="end" fill="#1a1a1a" font-weight="normal" stroke="#1a1a1a" stroke-width="0.14">0.6</text>
<text transform="translate(30.80 455.02) scale(0.9 1.0)" font-size="5.3" text-anchor="end" fill="#1a1a1a" font-weight="normal" stroke="#1a1a1a" stroke-width="0.14">0.7</text>
<text transform="translate(30.80 445.16) scale(0.9 1.0)" font-size="5.3" text-anchor="end" fill="#1a1a1a" font-weight="normal" stroke="#1a1a1a" stroke-width="0.14">0.8</text>
<text transform="translate(30.80 435.31) scale(0.9 1.0)" font-size="5.3" text-anchor="end" fill="#1a1a1a" font-weight="normal" stroke="#1a1a1a" stroke-width="0.14">0.9</text>
<text transform="translate(30.80 425.45) scale(0.9 1.0)" font-size="5.3" text-anchor="end" fill="#1a1a1a" font-weight="normal" stroke="#1a1a1a" stroke-width="0.14">1.0</text>
<text transform="translate(30.80 415.60) scale(0.9 1.0)" font-size="5.3" text-anchor="end" fill="#1a1a1a" font-weight="normal" stroke="#1a1a1a" stroke-width="0.14">1.1</text>
<text transform="translate(33.80 531.40) scale(0.9 1.0)" font-size="6.4" text-anchor="middle" fill="#1a1a1a" font-weight="normal" stroke="#1a1a1a" stroke-width="0.14">0</text>
<text transform="translate(49.69 531.40) scale(0.9 1.0)" font-size="6.4" text-anchor="middle" fill="#1a1a1a" font-weight="normal" stroke="#1a1a1a" stroke-width="0.14">2</text>
<text transform="translate(65.58 531.40) scale(0.9 1.0)" font-size="6.4" text-anchor="middle" fill="#1a1a1a" font-weight="normal" stroke="#1a1a1a" stroke-width="0.14">4</text>
<text transform="translate(81.46 531.40) scale(0.9 1.0)" font-size="6.4" text-anchor="middle" fill="#1a1a1a" font-weight="normal" stroke="#1a1a1a" stroke-width="0.14">6</text>
<text transform="translate(97.35 531.40) scale(0.9 1.0)" font-size="6.4" text-anchor="middle" fill="#1a1a1a" font-weight="normal" stroke="#1a1a1a" stroke-width="0.14">8</text>
<text transform="translate(113.24 531.40) scale(0.9 1.0)" font-size="6.4" text-anchor="middle" fill="#1a1a1a" font-weight="normal" stroke="#1a1a1a" stroke-width="0.14">10</text>
<text transform="translate(129.12 531.40) scale(0.9 1.0)" font-size="6.4" text-anchor="middle" fill="#1a1a1a" font-weight="normal" stroke="#1a1a1a" stroke-width="0.14">12</text>
<text transform="translate(145.01 531.40) scale(0.9 1.0)" font-size="6.4" text-anchor="middle" fill="#1a1a1a" font-weight="normal" stroke="#1a1a1a" stroke-width="0.14">14</text>
<text transform="translate(160.90 531.40) scale(0.9 1.0)" font-size="6.4" text-anchor="middle" fill="#1a1a1a" font-weight="normal" stroke="#1a1a1a" stroke-width="0.14">16</text>
<text transform="translate(11.00 420.90) scale(0.9 1.0)" font-size="8.2" text-anchor="start" fill="#111" font-weight="bold" stroke="#111" stroke-width="0.14">D</text>
<text transform="translate(17.00 432.70)" font-size="5.5" text-anchor="start" fill="#111" font-weight="bold" stroke="#111" stroke-width="0.14">L</text>
<text transform="translate(18.60 465.40) rotate(-90) scale(1.0 0.95)" font-size="7.0" text-anchor="middle" fill="#1a1a1a" font-weight="normal" stroke="#1a1a1a" stroke-width="0.14">Norm. value (a.u.)</text>
<text transform="translate(97.70 543.20) scale(0.87 1.0)" font-size="8.1" text-anchor="middle" fill="#1a1a1a" font-weight="normal" stroke="#1a1a1a" stroke-width="0.14">Time (Days)</text>
<path d="M127.1 423.2H144.3" stroke="#1a1a1a" stroke-width="1.3"/>
<path d="M127.1 433.5H144.3" stroke="#ff2a2a" stroke-width="1.3"/>
<path d="M127.1 444.1H144.3" stroke="#2a2aff" stroke-width="1.3"/>
<text transform="translate(146.60 426.00) scale(0.92 1.0)" font-size="7.4" text-anchor="start" fill="#1a1a1a" font-weight="normal" stroke="#1a1a1a" stroke-width="0.14">R</text>
<text transform="translate(146.60 436.30) scale(0.92 1.0)" font-size="7.4" text-anchor="start" fill="#1a1a1a" font-weight="normal" stroke="#1a1a1a" stroke-width="0.14">Igs</text>
<text transform="translate(146.60 446.80) scale(0.92 1.0)" font-size="7.4" text-anchor="start" fill="#1a1a1a" font-weight="normal" stroke="#1a1a1a" stroke-width="0.14">I0</text>
<path d="M222.00 424.80 C222.55 425.40 223.83 427.20 225.30 428.40 C226.77 429.60 228.98 430.93 230.80 432.00 C232.62 433.07 234.08 433.88 236.20 434.80 C238.32 435.72 241.07 436.75 243.50 437.50 C245.93 438.25 248.37 438.75 250.80 439.30 C253.23 439.85 255.67 440.18 258.10 440.80 C260.53 441.42 262.97 442.33 265.40 443.00 C267.83 443.67 270.27 444.20 272.70 444.80 C275.13 445.40 277.45 446.02 280.00 446.60 C282.55 447.18 284.21 447.58 288.00 448.30 C291.79 449.02 297.17 450.03 302.75 450.90 C308.33 451.77 315.25 452.75 321.50 453.50 C327.75 454.25 335.13 454.90 340.25 455.40 C345.37 455.90 350.21 456.32 352.20 456.50" stroke="#2a2aff" stroke-width="1.3" fill="none" stroke-linejoin="round" stroke-linecap="round"/>
<path d="M222.00 428.80 C222.55 428.73 224.15 428.83 225.30 428.40 C226.45 427.97 227.68 426.75 228.90 426.20 C230.12 425.65 231.08 425.33 232.60 425.10 C234.12 424.87 235.88 424.70 238.00 424.80 C240.12 424.90 243.17 425.25 245.30 425.70 C247.43 426.15 249.27 426.75 250.80 427.50 C252.33 428.25 253.28 428.98 254.50 430.20 C255.72 431.42 256.89 433.12 258.10 434.80 C259.31 436.48 260.53 438.48 261.75 440.30 C262.97 442.12 264.19 443.88 265.40 445.70 C266.61 447.52 267.78 449.37 269.00 451.20 C270.22 453.03 271.48 455.03 272.70 456.70 C273.92 458.37 274.93 459.78 276.30 461.20 C277.67 462.62 279.62 464.11 280.90 465.20 C282.18 466.29 281.61 466.32 284.00 467.75 C286.39 469.18 291.50 471.66 295.25 473.75 C299.00 475.84 302.75 477.96 306.50 480.30 C310.25 482.64 314.62 485.14 317.75 487.80 C320.88 490.46 323.06 493.28 325.25 496.25 C327.44 499.22 329.02 502.62 330.90 505.60 C332.77 508.58 334.63 512.16 336.50 514.10 C338.37 516.04 339.48 516.42 342.10 517.25 C344.72 518.08 350.52 518.79 352.20 519.10" stroke="#ff2a2a" stroke-width="1.3" fill="none" stroke-linejoin="round" stroke-linecap="round"/>
<path d="M222.00 434.80 C222.55 434.33 224.15 433.37 225.30 432.00 C226.45 430.63 227.38 427.80 228.90 426.60 C230.42 425.40 232.57 425.10 234.40 424.80 C236.23 424.50 238.08 424.57 239.90 424.80 C241.72 425.03 243.48 425.15 245.30 426.20 C247.12 427.25 248.97 429.52 250.80 431.10 C252.63 432.68 254.48 434.02 256.30 435.70 C258.12 437.38 259.93 439.38 261.75 441.20 C263.57 443.02 265.38 444.93 267.20 446.60 C269.02 448.27 271.03 449.83 272.70 451.20 C274.37 452.57 275.83 453.28 277.20 454.80 C278.57 456.32 279.77 458.70 280.90 460.30 C282.03 461.90 282.55 463.57 284.00 464.40 C285.45 465.23 288.03 465.62 289.60 465.30 C291.17 464.98 291.83 462.65 293.40 462.50 C294.97 462.35 296.82 463.47 299.00 464.40 C301.18 465.33 303.38 466.54 306.50 468.10 C309.62 469.66 314.62 471.25 317.75 473.75 C320.88 476.25 322.75 480.60 325.25 483.10 C327.75 485.60 330.88 486.87 332.75 488.75 C334.62 490.63 335.25 493.09 336.50 494.40 C337.75 495.71 339.00 496.60 340.25 496.60 C341.50 496.60 342.01 494.77 344.00 494.40 C345.99 494.03 350.83 494.40 352.20 494.40" stroke="#1a1a1a" stroke-width="1.3" fill="none" stroke-linejoin="round" stroke-linecap="round"/>
<path d="M221.30 414.40V526.30M352.40 414.40V526.30" fill="none" stroke="#666" stroke-width="1.7"/>
<path d="M220.45 414.40H353.25M220.45 526.30H353.25" fill="none" stroke="#3a3a3a" stroke-width="1.25"/>
<path d="M221.30 526.30v2.0M229.49 526.30v1.3M237.69 526.30v2.0M245.88 526.30v1.3M254.07 526.30v2.0M262.27 526.30v1.3M270.46 526.30v2.0M278.66 526.30v1.3M286.85 526.30v2.0M295.04 526.30v1.3M303.24 526.30v2.0M311.43 526.30v1.3M319.62 526.30v2.0M327.82 526.30v1.3M336.01 526.30v2.0M344.21 526.30v1.3M352.40 526.30v2.0M221.30 526.30h-2.0M221.30 521.21h-1.3M221.30 516.13h-2.0M221.30 511.04h-1.3M221.30 505.95h-2.0M221.30 500.87h-1.3M221.30 495.78h-2.0M221.30 490.70h-1.3M221.30 485.61h-2.0M221.30 480.52h-1.3M221.30 475.44h-2.0M221.30 470.35h-1.3M221.30 465.26h-2.0M221.30 460.18h-1.3M221.30 455.09h-2.0M221.30 450.00h-1.3M221.30 444.92h-2.0M221.30 439.83h-1.3M221.30 434.75h-2.0M221.30 429.66h-1.3M221.30 424.57h-2.0M221.30 419.49h-1.3M221.30 414.40h-2.0" stroke="#505050" stroke-width="0.9" fill="none"/>
<text transform="translate(218.30 528.00) scale(0.9 1.0)" font-size="5.0" text-anchor="end" fill="#1a1a1a" font-weight="normal" stroke="#1a1a1a" stroke-width="0.14">0.0</text>
<text transform="translate(218.30 517.83) scale(0.9 1.0)" font-size="5.0" text-anchor="end" fill="#1a1a1a" font-weight="normal" stroke="#1a1a1a" stroke-width="0.14">0.1</text>
<text transform="translate(218.30 507.65) scale(0.9 1.0)" font-size="5.0" text-anchor="end" fill="#1a1a1a" font-weight="normal" stroke="#1a1a1a" stroke-width="0.14">0.2</text>
<text transform="translate(218.30 497.48) scale(0.9 1.0)" font-size="5.0" text-anchor="end" fill="#1a1a1a" font-weight="normal" stroke="#1a1a1a" stroke-width="0.14">0.3</text>
<text transform="translate(218.30 487.31) scale(0.9 1.0)" font-size="5.0" text-anchor="end" fill="#1a1a1a" font-weight="normal" stroke="#1a1a1a" stroke-width="0.14">0.4</text>
<text transform="translate(218.30 477.14) scale(0.9 1.0)" font-size="5.0" text-anchor="end" fill="#1a1a1a" font-weight="normal" stroke="#1a1a1a" stroke-width="0.14">0.5</text>
<text transform="translate(218.30 466.96) scale(0.9 1.0)" font-size="5.0" text-anchor="end" fill="#1a1a1a" font-weight="normal" stroke="#1a1a1a" stroke-width="0.14">0.6</text>
<text transform="translate(218.30 456.79) scale(0.9 1.0)" font-size="5.0" text-anchor="end" fill="#1a1a1a" font-weight="normal" stroke="#1a1a1a" stroke-width="0.14">0.7</text>
<text transform="translate(218.30 446.62) scale(0.9 1.0)" font-size="5.0" text-anchor="end" fill="#1a1a1a" font-weight="normal" stroke="#1a1a1a" stroke-width="0.14">0.8</text>
<text transform="translate(218.30 436.45) scale(0.9 1.0)" font-size="5.0" text-anchor="end" fill="#1a1a1a" font-weight="normal" stroke="#1a1a1a" stroke-width="0.14">0.9</text>
<text transform="translate(218.30 426.27) scale(0.9 1.0)" font-size="5.0" text-anchor="end" fill="#1a1a1a" font-weight="normal" stroke="#1a1a1a" stroke-width="0.14">1.0</text>
<text transform="translate(218.30 416.10) scale(0.9 1.0)" font-size="5.0" text-anchor="end" fill="#1a1a1a" font-weight="normal" stroke="#1a1a1a" stroke-width="0.14">1.1</text>
<text transform="translate(221.30 535.40) scale(0.9 1.0)" font-size="6.4" text-anchor="middle" fill="#1a1a1a" font-weight="normal" stroke="#1a1a1a" stroke-width="0.14">0</text>
<text transform="translate(237.69 535.40) scale(0.9 1.0)" font-size="6.4" text-anchor="middle" fill="#1a1a1a" font-weight="normal" stroke="#1a1a1a" stroke-width="0.14">2</text>
<text transform="translate(254.07 535.40) scale(0.9 1.0)" font-size="6.4" text-anchor="middle" fill="#1a1a1a" font-weight="normal" stroke="#1a1a1a" stroke-width="0.14">4</text>
<text transform="translate(270.46 535.40) scale(0.9 1.0)" font-size="6.4" text-anchor="middle" fill="#1a1a1a" font-weight="normal" stroke="#1a1a1a" stroke-width="0.14">6</text>
<text transform="translate(286.85 535.40) scale(0.9 1.0)" font-size="6.4" text-anchor="middle" fill="#1a1a1a" font-weight="normal" stroke="#1a1a1a" stroke-width="0.14">8</text>
<text transform="translate(303.24 535.40) scale(0.9 1.0)" font-size="6.4" text-anchor="middle" fill="#1a1a1a" font-weight="normal" stroke="#1a1a1a" stroke-width="0.14">10</text>
<text transform="translate(319.62 535.40) scale(0.9 1.0)" font-size="6.4" text-anchor="middle" fill="#1a1a1a" font-weight="normal" stroke="#1a1a1a" stroke-width="0.14">12</text>
<text transform="translate(336.01 535.40) scale(0.9 1.0)" font-size="6.4" text-anchor="middle" fill="#1a1a1a" font-weight="normal" stroke="#1a1a1a" stroke-width="0.14">14</text>
<text transform="translate(352.40 535.40) scale(0.9 1.0)" font-size="6.4" text-anchor="middle" fill="#1a1a1a" font-weight="normal" stroke="#1a1a1a" stroke-width="0.14">16</text>
<text transform="translate(203.80 432.80) scale(0.9 1.0)" font-size="5.9" text-anchor="start" fill="#111" font-weight="bold" stroke="#111" stroke-width="0.14">R</text>
<text transform="translate(205.70 475.40) rotate(-90) scale(1.0 0.95)" font-size="7.9" text-anchor="middle" fill="#1a1a1a" font-weight="normal" stroke="#1a1a1a" stroke-width="0.14">Norm. value (a.u.)</text>
<text transform="translate(287.20 544.60) scale(0.875 1.0)" font-size="8.1" text-anchor="middle" fill="#1a1a1a" font-weight="normal" stroke="#1a1a1a" stroke-width="0.14">Time (Days)</text>
<path d="M325.8 423.3H340.3" stroke="#1a1a1a" stroke-width="1.3"/>
<path d="M325.8 432.3H340.3" stroke="#2a2aff" stroke-width="1.3"/>
<path d="M325.8 443.6H340.3" stroke="#ff2a2a" stroke-width="1.3"/>
<text transform="translate(342.50 425.80) scale(0.9 1.0)" font-size="7.4" text-anchor="start" fill="#1a1a1a" font-weight="normal" stroke="#1a1a1a" stroke-width="0.14">R</text>
<text transform="translate(342.9 435.8) scale(0.9 1)" font-size="9.2" fill="#1a1a1a" stroke="#1a1a1a" stroke-width="0.1">I<tspan font-size="4.2" dy="2.3">0</tspan></text>
<text transform="translate(342.9 447.5) scale(0.9 1)" font-size="9.2" fill="#1a1a1a" stroke="#1a1a1a" stroke-width="0.1">I<tspan font-size="4.2" dy="2.0">gs</tspan></text>
</svg></body></html>
